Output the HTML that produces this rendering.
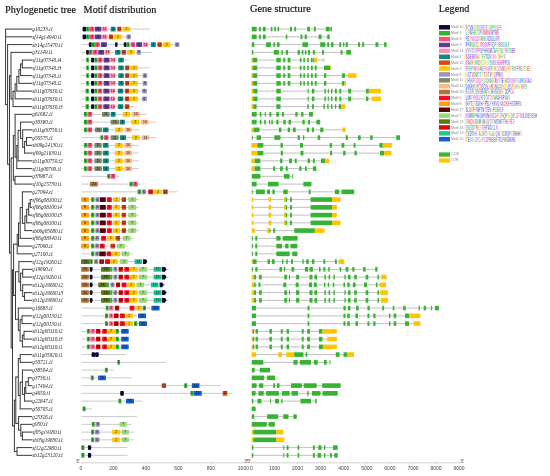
<!DOCTYPE html><html><head><meta charset="utf-8"><title>Phylogenetic tree, motif distribution and gene structure</title>
<style>html,body{margin:0;padding:0;background:#fff;}svg{display:block;}.ti{font-family:"Liberation Serif",serif;font-size:10.2px;fill:#111;stroke:#111;stroke-width:0.18px;}.lb{font-family:"Liberation Serif",serif;font-style:italic;font-size:5.2px;fill:#1a1a1a;}.bn{font-family:"Liberation Sans",sans-serif;font-size:3.3px;fill:#111;text-anchor:middle;}.ax{font-family:"Liberation Sans",sans-serif;font-size:5px;fill:#444;text-anchor:middle;}.lg{font-family:"Liberation Sans",sans-serif;font-size:3.5px;fill:#888;}.lo{font-family:"Liberation Sans",sans-serif;font-size:6.4px;font-weight:bold;}</style></head><body>
<svg width="550" height="476" viewBox="0 0 550 476">
<rect width="550" height="476" fill="#fff"/>
<text class="ti" x="5" y="12.6">Phylogenetic tree</text>
<text class="ti" x="83.6" y="13.3">Motif distribution</text>
<text class="ti" x="249.9" y="12.2" style="font-size:10.4px">Gene structure</text>
<text class="ti" x="438.8" y="12">Legend</text>
<path d="M5.60 28.65V104.89M5.60 29.10H32.00M5.60 36.85H32.00M5.60 104.44H7.60M7.60 44.15V164.73M7.60 44.60H32.00M7.60 164.28H9.50M9.50 75.21V253.36M9.50 75.66H11.00M11.00 51.90V99.42M11.00 52.35H32.00M11.00 98.97H13.00M13.00 90.89V107.05M13.00 91.34H15.10M15.10 83.38V99.30M15.10 83.83H16.80M16.80 76.12V91.55M16.80 76.57H18.90M18.90 69.34V83.80M18.90 69.79H20.60M20.60 63.52V76.05M20.60 63.97H22.30M22.30 59.65V68.30M22.30 60.10H32.00M22.30 67.85H32.00M20.60 75.60H32.00M18.90 83.35H32.00M16.80 91.10H32.00M15.10 98.85H32.00M13.00 106.60H32.00M9.50 252.91H11.20M11.20 157.52V348.29M11.20 157.97H13.40M13.40 135.27V180.67M13.40 135.72H15.10M15.10 113.90V157.55M15.10 114.35H32.00M15.10 157.10H16.80M16.80 145.14V169.05M16.80 145.59H18.10M18.10 129.88V161.30M18.10 130.33H20.60M20.60 121.65V139.02M20.60 122.10H32.00M20.60 138.57H22.70M22.70 129.40V147.74M22.70 129.85H32.00M22.70 147.29H24.60M24.60 141.03V153.55M24.60 141.47H26.50M26.50 137.15V145.80M26.50 137.60H32.00M26.50 145.35H32.00M24.60 153.10H32.00M18.10 160.85H32.00M16.80 168.60H32.00M13.40 180.22H15.00M15.00 175.90V184.55M15.00 176.35H32.00M15.00 184.10H32.00M11.20 347.84H12.50M12.50 269.40V426.28M12.50 269.85H13.60M13.60 243.74V295.96M13.60 244.19H17.20M17.20 234.09V254.30M17.20 234.54H18.50M18.50 222.52V246.55M18.50 222.97H20.20M20.20 207.14V238.80M20.20 207.59H22.40M22.40 191.40V223.78M22.40 191.85H32.00M22.40 223.33H24.90M24.90 215.62V231.05M24.90 216.07H26.70M26.70 208.84V223.30M26.70 209.29H28.70M28.70 203.03V215.55M28.70 203.47H30.20M30.20 199.15V207.80M30.20 199.60H32.00M30.20 207.35H32.00M28.70 215.10H32.00M26.70 222.85H32.00M24.90 230.60H32.00M20.20 238.35H32.00M18.50 246.10H32.00M17.20 253.85H32.00M13.60 295.51H15.50M15.50 271.32V319.69M15.50 271.77H18.90M18.90 261.15V282.39M18.90 261.60H32.00M18.90 281.94H20.60M20.60 272.78V291.11M20.60 273.23H22.70M22.70 268.90V277.55M22.70 269.35H32.00M22.70 277.10H32.00M20.60 290.66H22.70M22.70 284.40V296.93M22.70 284.85H32.00M22.70 296.48H24.60M24.60 292.15V300.80M24.60 292.60H32.00M24.60 300.35H32.00M15.50 319.24H18.30M18.30 307.65V330.83M18.30 308.10H32.00M18.30 330.38H20.10M20.10 319.28V341.49M20.10 319.73H22.00M22.00 315.40V324.05M22.00 315.85H32.00M22.00 323.60H32.00M20.10 341.04H22.40M22.40 334.78V347.30M22.40 335.23H24.00M24.00 330.90V339.55M24.00 331.35H32.00M24.00 339.10H32.00M22.40 346.85H32.00M12.50 425.83H14.40M14.40 399.74V451.93M14.40 400.19H15.80M15.80 376.55V423.83M15.80 377.00H18.30M18.30 358.03V395.98M18.30 358.48H20.20M20.20 354.15V362.80M20.20 354.60H32.00M20.20 362.35H32.00M18.30 395.53H20.20M20.20 381.76V409.30M20.20 382.21H22.40M22.40 369.65V394.77M22.40 370.10H32.00M22.40 394.32H24.60M24.60 387.09V401.55M24.60 387.54H25.80M25.80 381.28V393.80M25.80 381.73H28.30M28.30 377.40V386.05M28.30 377.85H32.00M28.30 385.60H32.00M25.80 393.35H32.00M24.60 401.10H32.00M20.20 408.85H32.00M15.80 423.38H18.60M18.60 416.15V430.61M18.60 416.60H32.00M18.60 430.16H20.80M20.80 423.90V436.43M20.80 424.35H32.00M20.80 435.98H22.40M22.40 431.65V440.30M22.40 432.10H32.00M22.40 439.85H32.00M14.40 451.48H17.00M17.00 447.15V455.80M17.00 447.60H32.00M17.00 455.35H32.00" stroke="#222" stroke-width="0.9" fill="none"/>
<text class="lb" x="32.3" y="31.00">g10233.t1</text>
<text class="lb" x="32.3" y="38.75">sf14g14040.t1</text>
<text class="lb" x="32.3" y="46.50">sb14g15470.t1</text>
<text class="lb" x="32.3" y="54.25">g31149.t1</text>
<text class="lb" x="32.3" y="62.00">sf11g07340.t4</text>
<text class="lb" x="32.3" y="69.75">sf11g07340.t3</text>
<text class="lb" x="32.3" y="77.50">sf11g07340.t1</text>
<text class="lb" x="32.3" y="85.25">sf11g07340.t2</text>
<text class="lb" x="32.3" y="93.00">sb11g07630.t2</text>
<text class="lb" x="32.3" y="100.75">sb11g07630.t1</text>
<text class="lb" x="32.3" y="108.50">sb11g07630.t3</text>
<text class="lb" x="32.3" y="116.25">g61682.t1</text>
<text class="lb" x="32.3" y="124.00">g30380.t1</text>
<text class="lb" x="32.3" y="131.75">sb11g00750.t1</text>
<text class="lb" x="32.3" y="139.50">g56575.t1</text>
<text class="lb" x="32.3" y="147.25">sb09g24130.t1</text>
<text class="lb" x="32.3" y="155.00">sf09g21630.t1</text>
<text class="lb" x="32.3" y="162.75">sb11g00750.t2</text>
<text class="lb" x="32.3" y="170.50">sf11g00790.t1</text>
<text class="lb" x="32.3" y="178.25">g33987.t1</text>
<text class="lb" x="32.3" y="186.00">sf10g25730.t1</text>
<text class="lb" x="32.3" y="193.75">g27094.t1</text>
<text class="lb" x="32.3" y="201.50">sf06g08100.t2</text>
<text class="lb" x="32.3" y="209.25">sf06g08100.t4</text>
<text class="lb" x="32.3" y="217.00">sf06g08100.t3</text>
<text class="lb" x="32.3" y="224.75">sf06g08100.t1</text>
<text class="lb" x="32.3" y="232.50">sb06g05680.t1</text>
<text class="lb" x="32.3" y="240.25">sf06g08340.t1</text>
<text class="lb" x="32.3" y="248.00">g27090.t1</text>
<text class="lb" x="32.3" y="255.75">g27100.t1</text>
<text class="lb" x="32.3" y="263.50">sf12g19260.t2</text>
<text class="lb" x="32.3" y="271.25">g19690.t1</text>
<text class="lb" x="32.3" y="279.00">sf12g19260.t1</text>
<text class="lb" x="32.3" y="286.75">sb12g19660.t2</text>
<text class="lb" x="32.3" y="294.50">sb12g19660.t3</text>
<text class="lb" x="32.3" y="302.25">sb12g19660.t1</text>
<text class="lb" x="32.3" y="310.00">g16683.t1</text>
<text class="lb" x="32.3" y="317.75">sf12g00130.t2</text>
<text class="lb" x="32.3" y="325.50">sf12g00130.t1</text>
<text class="lb" x="32.3" y="333.25">sb12g00110.t2</text>
<text class="lb" x="32.3" y="341.00">sb12g00110.t3</text>
<text class="lb" x="32.3" y="348.75">sb12g00110.t1</text>
<text class="lb" x="32.3" y="356.50">sb11g05920.t1</text>
<text class="lb" x="32.3" y="364.25">g50721.t1</text>
<text class="lb" x="32.3" y="372.00">g38504.t1</text>
<text class="lb" x="32.3" y="379.75">g3730.t1</text>
<text class="lb" x="32.3" y="387.50">g17404.t1</text>
<text class="lb" x="32.3" y="395.25">g4650.t1</text>
<text class="lb" x="32.3" y="403.00">g22847.t1</text>
<text class="lb" x="32.3" y="410.75">g56705.t1</text>
<text class="lb" x="32.3" y="418.50">g25326.t1</text>
<text class="lb" x="32.3" y="426.25">g950.t1</text>
<text class="lb" x="32.3" y="434.00">sf05g19180.t1</text>
<text class="lb" x="32.3" y="441.75">sb05g19830.t1</text>
<text class="lb" x="32.3" y="449.50">sf12g22980.t1</text>
<text class="lb" x="32.3" y="457.25">sb12g23120.t1</text>
<line x1="81.5" y1="29.10" x2="149.8" y2="29.10" stroke="#c4c4c4" stroke-width="0.9"/>
<rect x="82.6" y="26.70" width="3.6" height="4.8" rx="1.0" fill="#0b0b3d"/>
<text class="bn" x="84.40" y="30.20">10</text>
<rect x="86.2" y="26.70" width="3.0" height="4.8" rx="0.4" fill="#36b332"/>
<text class="bn" x="87.70" y="30.20">1</text>
<rect x="89.2" y="26.70" width="5.2" height="4.8" rx="0.4" fill="#f9507c"/>
<text class="bn" x="91.80" y="30.20">3</text>
<rect x="94.9" y="26.70" width="6.5" height="4.8" rx="0.4" fill="#5e3f8f"/>
<text class="bn" x="98.15" y="30.20">9</text>
<rect x="101.8" y="26.70" width="5.4" height="4.8" rx="0.4" fill="#ff8fb0"/>
<text class="bn" x="104.50" y="30.20">14</text>
<rect x="110.7" y="26.70" width="4.9" height="4.8" rx="0.4" fill="#0f8a80"/>
<text class="bn" x="113.15" y="30.20">4</text>
<rect x="117.3" y="26.70" width="4.1" height="4.8" rx="0.4" fill="#e04818"/>
<text class="bn" x="119.35" y="30.20">12</text>
<rect x="122.7" y="26.70" width="7.6" height="4.8" rx="0.4" fill="#ffc800"/>
<text class="bn" x="126.50" y="30.20">2</text>
<line x1="81.5" y1="36.85" x2="131.0" y2="36.85" stroke="#c4c4c4" stroke-width="0.9"/>
<rect x="82.6" y="34.45" width="3.6" height="4.8" rx="1.0" fill="#0b0b3d"/>
<text class="bn" x="84.40" y="37.95">10</text>
<rect x="86.2" y="34.45" width="3.0" height="4.8" rx="0.4" fill="#36b332"/>
<text class="bn" x="87.70" y="37.95">1</text>
<rect x="89.2" y="34.45" width="5.2" height="4.8" rx="0.4" fill="#f9507c"/>
<text class="bn" x="91.80" y="37.95">3</text>
<rect x="94.9" y="34.45" width="6.5" height="4.8" rx="0.4" fill="#5e3f8f"/>
<text class="bn" x="98.15" y="37.95">9</text>
<rect x="102.0" y="34.45" width="5.2" height="4.8" rx="0.4" fill="#ff8fb0"/>
<text class="bn" x="104.60" y="37.95">14</text>
<rect x="108.9" y="34.45" width="4.2" height="4.8" rx="0.4" fill="#e04818"/>
<text class="bn" x="111.00" y="37.95">12</text>
<rect x="114.0" y="34.45" width="7.8" height="4.8" rx="0.4" fill="#ffc800"/>
<text class="bn" x="117.90" y="37.95">2</text>
<rect x="126.5" y="34.45" width="4.4" height="4.8" rx="0.4" fill="#9a93bf"/>
<text class="bn" x="128.70" y="37.95">6</text>
<line x1="81.5" y1="44.60" x2="180.0" y2="44.60" stroke="#c4c4c4" stroke-width="0.9"/>
<rect x="88.9" y="42.20" width="2.7" height="4.8" rx="1.0" fill="#0b0b3d"/>
<text class="bn" x="90.25" y="45.70">10</text>
<rect x="91.6" y="42.20" width="3.3" height="4.8" rx="0.4" fill="#36b332"/>
<text class="bn" x="93.25" y="45.70">1</text>
<rect x="94.9" y="42.20" width="4.9" height="4.8" rx="0.4" fill="#f9507c"/>
<text class="bn" x="97.35" y="45.70">3</text>
<rect x="100.9" y="42.20" width="6.0" height="4.8" rx="0.4" fill="#5e3f8f"/>
<text class="bn" x="103.90" y="45.70">9</text>
<rect x="115.1" y="42.20" width="2.4" height="4.8" rx="1.0" fill="#0b0b3d"/>
<rect x="123.8" y="42.20" width="2.7" height="4.8" rx="1.0" fill="#0b0b3d"/>
<text class="bn" x="125.15" y="45.70">10</text>
<rect x="126.5" y="42.20" width="3.1" height="4.8" rx="0.4" fill="#36b332"/>
<text class="bn" x="128.05" y="45.70">1</text>
<rect x="130.7" y="42.20" width="4.4" height="4.8" rx="0.4" fill="#f9507c"/>
<text class="bn" x="132.90" y="45.70">3</text>
<rect x="136.2" y="42.20" width="5.8" height="4.8" rx="0.4" fill="#5e3f8f"/>
<text class="bn" x="139.10" y="45.70">9</text>
<rect x="142.7" y="42.20" width="5.5" height="4.8" rx="0.4" fill="#ff8fb0"/>
<text class="bn" x="145.45" y="45.70">14</text>
<rect x="150.9" y="42.20" width="4.9" height="4.8" rx="0.4" fill="#0f8a80"/>
<text class="bn" x="153.35" y="45.70">4</text>
<rect x="157.4" y="42.20" width="4.4" height="4.8" rx="0.4" fill="#e04818"/>
<text class="bn" x="159.60" y="45.70">12</text>
<rect x="162.9" y="42.20" width="7.6" height="4.8" rx="0.4" fill="#ffc800"/>
<text class="bn" x="166.70" y="45.70">2</text>
<rect x="174.9" y="42.20" width="4.4" height="4.8" rx="0.4" fill="#9a93bf"/>
<text class="bn" x="177.10" y="45.70">6</text>
<line x1="81.5" y1="52.35" x2="152.0" y2="52.35" stroke="#c4c4c4" stroke-width="0.9"/>
<rect x="86.2" y="49.95" width="2.7" height="4.8" rx="1.0" fill="#0b0b3d"/>
<text class="bn" x="87.55" y="53.45">10</text>
<rect x="88.9" y="49.95" width="3.3" height="4.8" rx="0.4" fill="#36b332"/>
<text class="bn" x="90.55" y="53.45">1</text>
<rect x="92.5" y="49.95" width="5.1" height="4.8" rx="0.4" fill="#f9507c"/>
<text class="bn" x="95.05" y="53.45">3</text>
<rect x="98.2" y="49.95" width="6.0" height="4.8" rx="0.4" fill="#5e3f8f"/>
<text class="bn" x="101.20" y="53.45">9</text>
<rect x="104.7" y="49.95" width="5.5" height="4.8" rx="0.4" fill="#ff8fb0"/>
<text class="bn" x="107.45" y="53.45">14</text>
<rect x="115.1" y="49.95" width="5.4" height="4.8" rx="0.4" fill="#0f8a80"/>
<text class="bn" x="117.80" y="53.45">4</text>
<rect x="121.6" y="49.95" width="4.4" height="4.8" rx="0.4" fill="#e04818"/>
<text class="bn" x="123.80" y="53.45">12</text>
<rect x="127.1" y="49.95" width="7.4" height="4.8" rx="0.4" fill="#ffc800"/>
<text class="bn" x="130.80" y="53.45">2</text>
<rect x="136.7" y="49.95" width="4.2" height="4.8" rx="0.4" fill="#9a93bf"/>
<text class="bn" x="138.80" y="53.45">6</text>
<line x1="81.5" y1="60.10" x2="128.7" y2="60.10" stroke="#c4c4c4" stroke-width="0.9"/>
<rect x="86.2" y="57.70" width="2.7" height="4.8" rx="0.4" fill="#36b332"/>
<text class="bn" x="87.55" y="61.20">1</text>
<rect x="91.1" y="57.70" width="3.0" height="4.8" rx="1.0" fill="#0b0b3d"/>
<text class="bn" x="92.60" y="61.20">10</text>
<rect x="94.4" y="57.70" width="3.0" height="4.8" rx="0.4" fill="#36b332"/>
<text class="bn" x="95.90" y="61.20">1</text>
<rect x="97.8" y="57.70" width="4.7" height="4.8" rx="0.4" fill="#f9507c"/>
<text class="bn" x="100.15" y="61.20">3</text>
<rect x="103.6" y="57.70" width="6.0" height="4.8" rx="0.4" fill="#5e3f8f"/>
<text class="bn" x="106.60" y="61.20">9</text>
<rect x="110.2" y="57.70" width="5.4" height="4.8" rx="0.4" fill="#ff8fb0"/>
<text class="bn" x="112.90" y="61.20">14</text>
<rect x="118.3" y="57.70" width="5.5" height="4.8" rx="0.4" fill="#0f8a80"/>
<text class="bn" x="121.05" y="61.20">4</text>
<line x1="81.5" y1="67.85" x2="149.3" y2="67.85" stroke="#c4c4c4" stroke-width="0.9"/>
<rect x="86.2" y="65.45" width="2.7" height="4.8" rx="0.4" fill="#36b332"/>
<text class="bn" x="87.55" y="68.95">1</text>
<rect x="91.1" y="65.45" width="3.0" height="4.8" rx="1.0" fill="#0b0b3d"/>
<text class="bn" x="92.60" y="68.95">10</text>
<rect x="94.4" y="65.45" width="3.0" height="4.8" rx="0.4" fill="#36b332"/>
<text class="bn" x="95.90" y="68.95">1</text>
<rect x="97.8" y="65.45" width="4.7" height="4.8" rx="0.4" fill="#f9507c"/>
<text class="bn" x="100.15" y="68.95">3</text>
<rect x="103.6" y="65.45" width="6.0" height="4.8" rx="0.4" fill="#5e3f8f"/>
<text class="bn" x="106.60" y="68.95">9</text>
<rect x="110.2" y="65.45" width="5.4" height="4.8" rx="0.4" fill="#ff8fb0"/>
<text class="bn" x="112.90" y="68.95">14</text>
<rect x="118.3" y="65.45" width="5.5" height="4.8" rx="0.4" fill="#0f8a80"/>
<text class="bn" x="121.05" y="68.95">4</text>
<rect x="125.1" y="65.45" width="4.2" height="4.8" rx="0.4" fill="#e04818"/>
<text class="bn" x="127.20" y="68.95">12</text>
<rect x="130.1" y="65.45" width="7.9" height="4.8" rx="0.4" fill="#ffc800"/>
<text class="bn" x="134.05" y="68.95">2</text>
<line x1="81.5" y1="75.60" x2="147.5" y2="75.60" stroke="#c4c4c4" stroke-width="0.9"/>
<rect x="86.2" y="73.20" width="2.7" height="4.8" rx="0.4" fill="#36b332"/>
<text class="bn" x="87.55" y="76.70">1</text>
<rect x="91.1" y="73.20" width="3.0" height="4.8" rx="1.0" fill="#0b0b3d"/>
<text class="bn" x="92.60" y="76.70">10</text>
<rect x="94.4" y="73.20" width="3.0" height="4.8" rx="0.4" fill="#36b332"/>
<text class="bn" x="95.90" y="76.70">1</text>
<rect x="97.8" y="73.20" width="4.7" height="4.8" rx="0.4" fill="#f9507c"/>
<text class="bn" x="100.15" y="76.70">3</text>
<rect x="103.6" y="73.20" width="6.0" height="4.8" rx="0.4" fill="#5e3f8f"/>
<text class="bn" x="106.60" y="76.70">9</text>
<rect x="110.2" y="73.20" width="5.4" height="4.8" rx="0.4" fill="#ff8fb0"/>
<text class="bn" x="112.90" y="76.70">14</text>
<rect x="118.3" y="73.20" width="5.5" height="4.8" rx="0.4" fill="#0f8a80"/>
<text class="bn" x="121.05" y="76.70">4</text>
<rect x="125.1" y="73.20" width="4.2" height="4.8" rx="0.4" fill="#e04818"/>
<text class="bn" x="127.20" y="76.70">12</text>
<rect x="130.1" y="73.20" width="7.9" height="4.8" rx="0.4" fill="#ffc800"/>
<text class="bn" x="134.05" y="76.70">2</text>
<rect x="142.7" y="73.20" width="4.4" height="4.8" rx="0.4" fill="#9a93bf"/>
<text class="bn" x="144.90" y="76.70">6</text>
<line x1="81.5" y1="83.35" x2="147.5" y2="83.35" stroke="#c4c4c4" stroke-width="0.9"/>
<rect x="86.2" y="80.95" width="2.7" height="4.8" rx="0.4" fill="#36b332"/>
<text class="bn" x="87.55" y="84.45">1</text>
<rect x="91.1" y="80.95" width="3.0" height="4.8" rx="1.0" fill="#0b0b3d"/>
<text class="bn" x="92.60" y="84.45">10</text>
<rect x="94.4" y="80.95" width="3.0" height="4.8" rx="0.4" fill="#36b332"/>
<text class="bn" x="95.90" y="84.45">1</text>
<rect x="97.8" y="80.95" width="4.7" height="4.8" rx="0.4" fill="#f9507c"/>
<text class="bn" x="100.15" y="84.45">3</text>
<rect x="103.6" y="80.95" width="6.0" height="4.8" rx="0.4" fill="#5e3f8f"/>
<text class="bn" x="106.60" y="84.45">9</text>
<rect x="110.2" y="80.95" width="5.4" height="4.8" rx="0.4" fill="#ff8fb0"/>
<text class="bn" x="112.90" y="84.45">14</text>
<rect x="118.3" y="80.95" width="5.5" height="4.8" rx="0.4" fill="#0f8a80"/>
<text class="bn" x="121.05" y="84.45">4</text>
<rect x="125.1" y="80.95" width="4.2" height="4.8" rx="0.4" fill="#e04818"/>
<text class="bn" x="127.20" y="84.45">12</text>
<rect x="130.1" y="80.95" width="7.9" height="4.8" rx="0.4" fill="#ffc800"/>
<text class="bn" x="134.05" y="84.45">2</text>
<rect x="142.7" y="80.95" width="4.4" height="4.8" rx="0.4" fill="#9a93bf"/>
<text class="bn" x="144.90" y="84.45">6</text>
<line x1="81.5" y1="91.10" x2="147.0" y2="91.10" stroke="#c4c4c4" stroke-width="0.9"/>
<rect x="85.6" y="88.70" width="3.3" height="4.8" rx="0.4" fill="#36b332"/>
<text class="bn" x="87.25" y="92.20">1</text>
<rect x="91.1" y="88.70" width="3.0" height="4.8" rx="1.0" fill="#0b0b3d"/>
<text class="bn" x="92.60" y="92.20">10</text>
<rect x="94.4" y="88.70" width="3.0" height="4.8" rx="0.4" fill="#36b332"/>
<text class="bn" x="95.90" y="92.20">1</text>
<rect x="97.8" y="88.70" width="4.4" height="4.8" rx="0.4" fill="#f9507c"/>
<text class="bn" x="100.00" y="92.20">3</text>
<rect x="103.3" y="88.70" width="6.3" height="4.8" rx="0.4" fill="#5e3f8f"/>
<text class="bn" x="106.45" y="92.20">9</text>
<rect x="110.2" y="88.70" width="4.9" height="4.8" rx="0.4" fill="#ff8fb0"/>
<text class="bn" x="112.65" y="92.20">14</text>
<rect x="117.8" y="88.70" width="5.5" height="4.8" rx="0.4" fill="#0f8a80"/>
<text class="bn" x="120.55" y="92.20">4</text>
<rect x="124.9" y="88.70" width="4.4" height="4.8" rx="0.4" fill="#e04818"/>
<text class="bn" x="127.10" y="92.20">12</text>
<rect x="129.8" y="88.70" width="8.2" height="4.8" rx="0.4" fill="#ffc800"/>
<text class="bn" x="133.90" y="92.20">2</text>
<rect x="142.2" y="88.70" width="4.6" height="4.8" rx="0.4" fill="#9a93bf"/>
<text class="bn" x="144.50" y="92.20">6</text>
<line x1="81.5" y1="98.85" x2="147.0" y2="98.85" stroke="#c4c4c4" stroke-width="0.9"/>
<rect x="85.6" y="96.45" width="3.3" height="4.8" rx="0.4" fill="#36b332"/>
<text class="bn" x="87.25" y="99.95">1</text>
<rect x="91.1" y="96.45" width="3.0" height="4.8" rx="1.0" fill="#0b0b3d"/>
<text class="bn" x="92.60" y="99.95">10</text>
<rect x="94.4" y="96.45" width="3.0" height="4.8" rx="0.4" fill="#36b332"/>
<text class="bn" x="95.90" y="99.95">1</text>
<rect x="97.8" y="96.45" width="4.4" height="4.8" rx="0.4" fill="#f9507c"/>
<text class="bn" x="100.00" y="99.95">3</text>
<rect x="103.3" y="96.45" width="6.3" height="4.8" rx="0.4" fill="#5e3f8f"/>
<text class="bn" x="106.45" y="99.95">9</text>
<rect x="110.2" y="96.45" width="4.9" height="4.8" rx="0.4" fill="#ff8fb0"/>
<text class="bn" x="112.65" y="99.95">14</text>
<rect x="117.8" y="96.45" width="5.5" height="4.8" rx="0.4" fill="#0f8a80"/>
<text class="bn" x="120.55" y="99.95">4</text>
<rect x="124.9" y="96.45" width="4.4" height="4.8" rx="0.4" fill="#e04818"/>
<text class="bn" x="127.10" y="99.95">12</text>
<rect x="129.8" y="96.45" width="8.2" height="4.8" rx="0.4" fill="#ffc800"/>
<text class="bn" x="133.90" y="99.95">2</text>
<rect x="142.2" y="96.45" width="4.6" height="4.8" rx="0.4" fill="#9a93bf"/>
<text class="bn" x="144.50" y="99.95">6</text>
<line x1="81.5" y1="106.60" x2="133.6" y2="106.60" stroke="#c4c4c4" stroke-width="0.9"/>
<rect x="85.6" y="104.20" width="3.3" height="4.8" rx="0.4" fill="#36b332"/>
<text class="bn" x="87.25" y="107.70">1</text>
<rect x="91.1" y="104.20" width="3.0" height="4.8" rx="1.0" fill="#0b0b3d"/>
<text class="bn" x="92.60" y="107.70">10</text>
<rect x="94.4" y="104.20" width="3.0" height="4.8" rx="0.4" fill="#36b332"/>
<text class="bn" x="95.90" y="107.70">1</text>
<rect x="97.8" y="104.20" width="4.4" height="4.8" rx="0.4" fill="#f9507c"/>
<text class="bn" x="100.00" y="107.70">3</text>
<rect x="103.3" y="104.20" width="6.3" height="4.8" rx="0.4" fill="#5e3f8f"/>
<text class="bn" x="106.45" y="107.70">9</text>
<rect x="110.2" y="104.20" width="4.9" height="4.8" rx="0.4" fill="#ff8fb0"/>
<text class="bn" x="112.65" y="107.70">14</text>
<rect x="117.8" y="104.20" width="5.5" height="4.8" rx="0.4" fill="#0f8a80"/>
<text class="bn" x="120.55" y="107.70">4</text>
<rect x="124.9" y="104.20" width="4.4" height="4.8" rx="0.4" fill="#e04818"/>
<text class="bn" x="127.10" y="107.70">12</text>
<line x1="81.5" y1="114.35" x2="146.5" y2="114.35" stroke="#c4c4c4" stroke-width="0.9"/>
<rect x="84.0" y="111.95" width="2.9" height="4.8" rx="0.4" fill="#36b332"/>
<text class="bn" x="85.45" y="115.45">1</text>
<rect x="87.3" y="111.95" width="4.9" height="4.8" rx="0.4" fill="#f9507c"/>
<text class="bn" x="89.75" y="115.45">3</text>
<rect x="102.0" y="111.95" width="7.6" height="4.8" rx="0.4" fill="#7b8a6d"/>
<text class="bn" x="105.80" y="115.45">11</text>
<rect x="110.7" y="111.95" width="4.9" height="4.8" rx="0.4" fill="#0f8a80"/>
<text class="bn" x="113.15" y="115.45">4</text>
<rect x="122.7" y="111.95" width="7.6" height="4.8" rx="0.4" fill="#ffc800"/>
<text class="bn" x="126.50" y="115.45">2</text>
<rect x="132.1" y="111.95" width="7.7" height="4.8" rx="0.4" fill="#ffb98a"/>
<text class="bn" x="135.95" y="115.45">16</text>
<line x1="81.5" y1="122.10" x2="155.8" y2="122.10" stroke="#c4c4c4" stroke-width="0.9"/>
<rect x="84.0" y="119.70" width="3.3" height="4.8" rx="0.4" fill="#36b332"/>
<text class="bn" x="85.65" y="123.20">1</text>
<rect x="87.3" y="119.70" width="4.9" height="4.8" rx="0.4" fill="#f9507c"/>
<text class="bn" x="89.75" y="123.20">3</text>
<rect x="110.7" y="119.70" width="8.2" height="4.8" rx="0.4" fill="#7b8a6d"/>
<text class="bn" x="114.80" y="123.20">11</text>
<rect x="119.7" y="119.70" width="5.2" height="4.8" rx="0.4" fill="#0f8a80"/>
<text class="bn" x="122.30" y="123.20">4</text>
<rect x="131.3" y="119.70" width="8.2" height="4.8" rx="0.4" fill="#ffc800"/>
<text class="bn" x="135.40" y="123.20">2</text>
<rect x="141.1" y="119.70" width="7.6" height="4.8" rx="0.4" fill="#ffb98a"/>
<text class="bn" x="144.90" y="123.20">16</text>
<line x1="81.5" y1="129.85" x2="139.5" y2="129.85" stroke="#c4c4c4" stroke-width="0.9"/>
<rect x="84.0" y="127.45" width="2.9" height="4.8" rx="0.4" fill="#36b332"/>
<text class="bn" x="85.45" y="130.95">1</text>
<rect x="87.3" y="127.45" width="4.9" height="4.8" rx="0.4" fill="#f9507c"/>
<text class="bn" x="89.75" y="130.95">3</text>
<rect x="94.9" y="127.45" width="7.1" height="4.8" rx="0.4" fill="#7b8a6d"/>
<text class="bn" x="98.45" y="130.95">11</text>
<rect x="102.9" y="127.45" width="5.6" height="4.8" rx="0.4" fill="#0f8a80"/>
<text class="bn" x="105.70" y="130.95">4</text>
<rect x="115.1" y="127.45" width="7.6" height="4.8" rx="0.4" fill="#ffc800"/>
<text class="bn" x="118.90" y="130.95">2</text>
<rect x="124.9" y="127.45" width="6.9" height="4.8" rx="0.4" fill="#ffb98a"/>
<text class="bn" x="128.35" y="130.95">16</text>
<line x1="81.5" y1="137.60" x2="156.1" y2="137.60" stroke="#c4c4c4" stroke-width="0.9"/>
<rect x="100.4" y="135.20" width="2.9" height="4.8" rx="0.4" fill="#36b332"/>
<text class="bn" x="101.85" y="138.70">1</text>
<rect x="104.0" y="135.20" width="4.5" height="4.8" rx="0.4" fill="#f9507c"/>
<text class="bn" x="106.25" y="138.70">3</text>
<rect x="110.7" y="135.20" width="7.9" height="4.8" rx="0.4" fill="#7b8a6d"/>
<text class="bn" x="114.65" y="138.70">11</text>
<rect x="120.0" y="135.20" width="6.0" height="4.8" rx="0.4" fill="#0f8a80"/>
<text class="bn" x="123.00" y="138.70">4</text>
<rect x="132.1" y="135.20" width="7.7" height="4.8" rx="0.4" fill="#ffc800"/>
<text class="bn" x="135.95" y="138.70">2</text>
<rect x="141.6" y="135.20" width="7.7" height="4.8" rx="0.4" fill="#ffb98a"/>
<text class="bn" x="145.45" y="138.70">16</text>
<line x1="81.5" y1="145.35" x2="138.9" y2="145.35" stroke="#c4c4c4" stroke-width="0.9"/>
<rect x="84.0" y="142.95" width="2.9" height="4.8" rx="0.4" fill="#36b332"/>
<text class="bn" x="85.45" y="146.45">1</text>
<rect x="87.3" y="142.95" width="4.9" height="4.8" rx="0.4" fill="#f9507c"/>
<text class="bn" x="89.75" y="146.45">3</text>
<rect x="94.4" y="142.95" width="7.4" height="4.8" rx="0.4" fill="#7b8a6d"/>
<text class="bn" x="98.10" y="146.45">11</text>
<rect x="102.9" y="142.95" width="5.6" height="4.8" rx="0.4" fill="#0f8a80"/>
<text class="bn" x="105.70" y="146.45">4</text>
<rect x="115.1" y="142.95" width="7.6" height="4.8" rx="0.4" fill="#ffc800"/>
<text class="bn" x="118.90" y="146.45">2</text>
<rect x="124.3" y="142.95" width="7.5" height="4.8" rx="0.4" fill="#ffb98a"/>
<text class="bn" x="128.05" y="146.45">16</text>
<line x1="81.5" y1="153.10" x2="138.9" y2="153.10" stroke="#c4c4c4" stroke-width="0.9"/>
<rect x="84.0" y="150.70" width="2.9" height="4.8" rx="0.4" fill="#36b332"/>
<text class="bn" x="85.45" y="154.20">1</text>
<rect x="87.3" y="150.70" width="4.9" height="4.8" rx="0.4" fill="#f9507c"/>
<text class="bn" x="89.75" y="154.20">3</text>
<rect x="94.4" y="150.70" width="7.4" height="4.8" rx="0.4" fill="#7b8a6d"/>
<text class="bn" x="98.10" y="154.20">11</text>
<rect x="102.9" y="150.70" width="5.9" height="4.8" rx="0.4" fill="#0f8a80"/>
<text class="bn" x="105.85" y="154.20">4</text>
<rect x="115.1" y="150.70" width="7.6" height="4.8" rx="0.4" fill="#ffc800"/>
<text class="bn" x="118.90" y="154.20">2</text>
<rect x="124.3" y="150.70" width="7.7" height="4.8" rx="0.4" fill="#ffb98a"/>
<text class="bn" x="128.15" y="154.20">16</text>
<line x1="81.5" y1="160.85" x2="138.9" y2="160.85" stroke="#c4c4c4" stroke-width="0.9"/>
<rect x="84.0" y="158.45" width="2.9" height="4.8" rx="0.4" fill="#36b332"/>
<text class="bn" x="85.45" y="161.95">1</text>
<rect x="87.3" y="158.45" width="4.9" height="4.8" rx="0.4" fill="#f9507c"/>
<text class="bn" x="89.75" y="161.95">3</text>
<rect x="94.4" y="158.45" width="7.4" height="4.8" rx="0.4" fill="#7b8a6d"/>
<text class="bn" x="98.10" y="161.95">11</text>
<rect x="102.9" y="158.45" width="5.9" height="4.8" rx="0.4" fill="#0f8a80"/>
<text class="bn" x="105.85" y="161.95">4</text>
<rect x="115.1" y="158.45" width="7.6" height="4.8" rx="0.4" fill="#ffc800"/>
<text class="bn" x="118.90" y="161.95">2</text>
<rect x="124.3" y="158.45" width="7.7" height="4.8" rx="0.4" fill="#ffb98a"/>
<text class="bn" x="128.15" y="161.95">16</text>
<line x1="81.5" y1="168.60" x2="138.9" y2="168.60" stroke="#c4c4c4" stroke-width="0.9"/>
<rect x="84.0" y="166.20" width="2.9" height="4.8" rx="0.4" fill="#36b332"/>
<text class="bn" x="85.45" y="169.70">1</text>
<rect x="87.3" y="166.20" width="4.9" height="4.8" rx="0.4" fill="#f9507c"/>
<text class="bn" x="89.75" y="169.70">3</text>
<rect x="94.4" y="166.20" width="7.4" height="4.8" rx="0.4" fill="#7b8a6d"/>
<text class="bn" x="98.10" y="169.70">11</text>
<rect x="102.9" y="166.20" width="5.9" height="4.8" rx="0.4" fill="#0f8a80"/>
<text class="bn" x="105.85" y="169.70">4</text>
<rect x="115.1" y="166.20" width="7.6" height="4.8" rx="0.4" fill="#ffc800"/>
<text class="bn" x="118.90" y="169.70">2</text>
<rect x="124.3" y="166.20" width="7.7" height="4.8" rx="0.4" fill="#ffb98a"/>
<text class="bn" x="128.15" y="169.70">16</text>
<line x1="81.5" y1="176.35" x2="119.2" y2="176.35" stroke="#c4c4c4" stroke-width="0.9"/>
<rect x="107.2" y="173.95" width="3.0" height="4.8" rx="0.4" fill="#36b332"/>
<text class="bn" x="108.70" y="177.45">1</text>
<rect x="110.5" y="173.95" width="4.8" height="4.8" rx="0.4" fill="#f9507c"/>
<text class="bn" x="112.90" y="177.45">3</text>
<line x1="81.5" y1="184.10" x2="141.6" y2="184.10" stroke="#c4c4c4" stroke-width="0.9"/>
<rect x="90.0" y="181.70" width="7.8" height="4.8" rx="0.4" fill="#b0743a"/>
<text class="bn" x="93.90" y="185.20">20</text>
<rect x="129.5" y="181.70" width="3.2" height="4.8" rx="0.4" fill="#36b332"/>
<text class="bn" x="131.10" y="185.20">1</text>
<rect x="133.1" y="181.70" width="4.7" height="4.8" rx="0.4" fill="#f9507c"/>
<text class="bn" x="135.45" y="185.20">3</text>
<line x1="81.5" y1="191.85" x2="177.1" y2="191.85" stroke="#c4c4c4" stroke-width="0.9"/>
<rect x="137.6" y="189.45" width="3.3" height="4.8" rx="0.4" fill="#36b332"/>
<text class="bn" x="139.25" y="192.95">1</text>
<rect x="141.6" y="189.45" width="4.4" height="4.8" rx="0.4" fill="#9a93bf"/>
<text class="bn" x="143.80" y="192.95">6</text>
<rect x="148.2" y="189.45" width="4.9" height="4.8" rx="0.4" fill="#ff0a1e"/>
<text class="bn" x="150.65" y="192.95">5</text>
<rect x="154.2" y="189.45" width="7.6" height="4.8" rx="0.4" fill="#ffc800"/>
<text class="bn" x="158.00" y="192.95">2</text>
<rect x="162.9" y="189.45" width="4.9" height="4.8" rx="0.4" fill="#e04818"/>
<text class="bn" x="165.35" y="192.95">12</text>
<line x1="81.5" y1="199.60" x2="138.9" y2="199.60" stroke="#c4c4c4" stroke-width="0.9"/>
<rect x="81.1" y="197.20" width="7.8" height="4.8" rx="0.4" fill="#ffa000"/>
<text class="bn" x="85.00" y="200.70">8</text>
<rect x="91.1" y="197.20" width="3.3" height="4.8" rx="0.4" fill="#36b332"/>
<text class="bn" x="92.75" y="200.70">1</text>
<rect x="95.4" y="197.20" width="3.9" height="4.8" rx="0.4" fill="#9a93bf"/>
<text class="bn" x="97.35" y="200.70">6</text>
<rect x="99.8" y="197.20" width="6.0" height="4.8" rx="0.4" fill="#5a0008"/>
<text class="bn" x="102.80" y="200.70">17</text>
<rect x="106.9" y="197.20" width="4.9" height="4.8" rx="0.4" fill="#ff0a1e"/>
<text class="bn" x="109.35" y="200.70">5</text>
<rect x="112.9" y="197.20" width="7.1" height="4.8" rx="0.4" fill="#ffc800"/>
<text class="bn" x="116.45" y="200.70">2</text>
<rect x="121.6" y="197.20" width="4.4" height="4.8" rx="0.4" fill="#e04818"/>
<text class="bn" x="123.80" y="200.70">12</text>
<rect x="128.2" y="197.20" width="8.0" height="4.8" rx="0.4" fill="#9cd878"/>
<text class="bn" x="132.20" y="200.70">7</text>
<line x1="81.5" y1="207.35" x2="138.9" y2="207.35" stroke="#c4c4c4" stroke-width="0.9"/>
<rect x="81.1" y="204.95" width="7.8" height="4.8" rx="0.4" fill="#ffa000"/>
<text class="bn" x="85.00" y="208.45">8</text>
<rect x="91.1" y="204.95" width="3.3" height="4.8" rx="0.4" fill="#36b332"/>
<text class="bn" x="92.75" y="208.45">1</text>
<rect x="95.4" y="204.95" width="3.9" height="4.8" rx="0.4" fill="#9a93bf"/>
<text class="bn" x="97.35" y="208.45">6</text>
<rect x="99.8" y="204.95" width="6.0" height="4.8" rx="0.4" fill="#5a0008"/>
<text class="bn" x="102.80" y="208.45">17</text>
<rect x="106.9" y="204.95" width="4.9" height="4.8" rx="0.4" fill="#ff0a1e"/>
<text class="bn" x="109.35" y="208.45">5</text>
<rect x="112.9" y="204.95" width="7.1" height="4.8" rx="0.4" fill="#ffc800"/>
<text class="bn" x="116.45" y="208.45">2</text>
<rect x="121.6" y="204.95" width="4.4" height="4.8" rx="0.4" fill="#e04818"/>
<text class="bn" x="123.80" y="208.45">12</text>
<rect x="128.2" y="204.95" width="8.0" height="4.8" rx="0.4" fill="#9cd878"/>
<text class="bn" x="132.20" y="208.45">7</text>
<line x1="81.5" y1="215.10" x2="138.9" y2="215.10" stroke="#c4c4c4" stroke-width="0.9"/>
<rect x="81.1" y="212.70" width="7.8" height="4.8" rx="0.4" fill="#ffa000"/>
<text class="bn" x="85.00" y="216.20">8</text>
<rect x="91.1" y="212.70" width="3.3" height="4.8" rx="0.4" fill="#36b332"/>
<text class="bn" x="92.75" y="216.20">1</text>
<rect x="95.4" y="212.70" width="3.9" height="4.8" rx="0.4" fill="#9a93bf"/>
<text class="bn" x="97.35" y="216.20">6</text>
<rect x="99.8" y="212.70" width="6.0" height="4.8" rx="0.4" fill="#5a0008"/>
<text class="bn" x="102.80" y="216.20">17</text>
<rect x="106.9" y="212.70" width="4.9" height="4.8" rx="0.4" fill="#ff0a1e"/>
<text class="bn" x="109.35" y="216.20">5</text>
<rect x="112.9" y="212.70" width="7.1" height="4.8" rx="0.4" fill="#ffc800"/>
<text class="bn" x="116.45" y="216.20">2</text>
<rect x="121.6" y="212.70" width="4.4" height="4.8" rx="0.4" fill="#e04818"/>
<text class="bn" x="123.80" y="216.20">12</text>
<rect x="128.2" y="212.70" width="8.0" height="4.8" rx="0.4" fill="#9cd878"/>
<text class="bn" x="132.20" y="216.20">7</text>
<line x1="81.5" y1="222.85" x2="138.9" y2="222.85" stroke="#c4c4c4" stroke-width="0.9"/>
<rect x="81.1" y="220.45" width="7.8" height="4.8" rx="0.4" fill="#ffa000"/>
<text class="bn" x="85.00" y="223.95">8</text>
<rect x="91.1" y="220.45" width="3.3" height="4.8" rx="0.4" fill="#36b332"/>
<text class="bn" x="92.75" y="223.95">1</text>
<rect x="95.4" y="220.45" width="3.9" height="4.8" rx="0.4" fill="#9a93bf"/>
<text class="bn" x="97.35" y="223.95">6</text>
<rect x="99.8" y="220.45" width="6.0" height="4.8" rx="0.4" fill="#5a0008"/>
<text class="bn" x="102.80" y="223.95">17</text>
<rect x="106.9" y="220.45" width="4.9" height="4.8" rx="0.4" fill="#ff0a1e"/>
<text class="bn" x="109.35" y="223.95">5</text>
<rect x="112.9" y="220.45" width="7.1" height="4.8" rx="0.4" fill="#ffc800"/>
<text class="bn" x="116.45" y="223.95">2</text>
<rect x="121.6" y="220.45" width="4.4" height="4.8" rx="0.4" fill="#e04818"/>
<text class="bn" x="123.80" y="223.95">12</text>
<rect x="128.2" y="220.45" width="8.0" height="4.8" rx="0.4" fill="#9cd878"/>
<text class="bn" x="132.20" y="223.95">7</text>
<line x1="81.5" y1="230.60" x2="138.9" y2="230.60" stroke="#c4c4c4" stroke-width="0.9"/>
<rect x="81.1" y="228.20" width="7.8" height="4.8" rx="0.4" fill="#ffa000"/>
<text class="bn" x="85.00" y="231.70">8</text>
<rect x="91.1" y="228.20" width="3.3" height="4.8" rx="0.4" fill="#36b332"/>
<text class="bn" x="92.75" y="231.70">1</text>
<rect x="95.4" y="228.20" width="3.9" height="4.8" rx="0.4" fill="#9a93bf"/>
<text class="bn" x="97.35" y="231.70">6</text>
<rect x="99.8" y="228.20" width="6.0" height="4.8" rx="0.4" fill="#5a0008"/>
<text class="bn" x="102.80" y="231.70">17</text>
<rect x="106.9" y="228.20" width="4.9" height="4.8" rx="0.4" fill="#ff0a1e"/>
<text class="bn" x="109.35" y="231.70">5</text>
<rect x="112.9" y="228.20" width="7.1" height="4.8" rx="0.4" fill="#ffc800"/>
<text class="bn" x="116.45" y="231.70">2</text>
<rect x="121.6" y="228.20" width="4.4" height="4.8" rx="0.4" fill="#e04818"/>
<text class="bn" x="123.80" y="231.70">12</text>
<rect x="128.2" y="228.20" width="8.0" height="4.8" rx="0.4" fill="#9cd878"/>
<text class="bn" x="132.20" y="231.70">7</text>
<line x1="81.5" y1="238.35" x2="132.9" y2="238.35" stroke="#c4c4c4" stroke-width="0.9"/>
<rect x="81.1" y="235.95" width="7.8" height="4.8" rx="0.4" fill="#ffa000"/>
<text class="bn" x="85.00" y="239.45">8</text>
<rect x="91.1" y="235.95" width="3.3" height="4.8" rx="0.4" fill="#36b332"/>
<text class="bn" x="92.75" y="239.45">1</text>
<rect x="95.2" y="235.95" width="4.1" height="4.8" rx="0.4" fill="#9a93bf"/>
<text class="bn" x="97.25" y="239.45">6</text>
<rect x="101.1" y="235.95" width="5.0" height="4.8" rx="0.4" fill="#ff0a1e"/>
<text class="bn" x="103.60" y="239.45">5</text>
<rect x="106.9" y="235.95" width="7.6" height="4.8" rx="0.4" fill="#ffc800"/>
<text class="bn" x="110.70" y="239.45">2</text>
<rect x="115.6" y="235.95" width="4.4" height="4.8" rx="0.4" fill="#e04818"/>
<text class="bn" x="117.80" y="239.45">12</text>
<rect x="122.7" y="235.95" width="7.7" height="4.8" rx="0.4" fill="#9cd878"/>
<text class="bn" x="126.55" y="239.45">7</text>
<line x1="81.5" y1="246.10" x2="127.6" y2="246.10" stroke="#c4c4c4" stroke-width="0.9"/>
<rect x="81.1" y="243.70" width="7.8" height="4.8" rx="0.4" fill="#ffa000"/>
<text class="bn" x="85.00" y="247.20">8</text>
<rect x="91.1" y="243.70" width="3.3" height="4.8" rx="0.4" fill="#36b332"/>
<text class="bn" x="92.75" y="247.20">1</text>
<rect x="95.2" y="243.70" width="4.1" height="4.8" rx="0.4" fill="#9a93bf"/>
<text class="bn" x="97.25" y="247.20">6</text>
<rect x="99.8" y="243.70" width="4.9" height="4.8" rx="0.4" fill="#ff0a1e"/>
<text class="bn" x="102.25" y="247.20">5</text>
<rect x="110.5" y="243.70" width="4.6" height="4.8" rx="0.4" fill="#e04818"/>
<text class="bn" x="112.80" y="247.20">12</text>
<rect x="117.0" y="243.70" width="7.9" height="4.8" rx="0.4" fill="#9cd878"/>
<text class="bn" x="120.95" y="247.20">7</text>
<line x1="81.5" y1="253.85" x2="132.4" y2="253.85" stroke="#c4c4c4" stroke-width="0.9"/>
<rect x="91.1" y="251.45" width="3.3" height="4.8" rx="0.4" fill="#36b332"/>
<text class="bn" x="92.75" y="254.95">1</text>
<rect x="95.2" y="251.45" width="4.1" height="4.8" rx="0.4" fill="#9a93bf"/>
<text class="bn" x="97.25" y="254.95">6</text>
<rect x="99.3" y="251.45" width="6.5" height="4.8" rx="0.4" fill="#5a0008"/>
<text class="bn" x="102.55" y="254.95">17</text>
<rect x="106.6" y="251.45" width="4.7" height="4.8" rx="0.4" fill="#ff0a1e"/>
<text class="bn" x="108.95" y="254.95">5</text>
<rect x="111.8" y="251.45" width="8.2" height="4.8" rx="0.4" fill="#ffc800"/>
<text class="bn" x="115.90" y="254.95">2</text>
<rect x="121.6" y="251.45" width="7.7" height="4.8" rx="0.4" fill="#9cd878"/>
<text class="bn" x="125.45" y="254.95">7</text>
<line x1="81.5" y1="261.60" x2="147.1" y2="261.60" stroke="#c4c4c4" stroke-width="0.9"/>
<rect x="81.1" y="259.20" width="8.7" height="4.8" rx="0.4" fill="#5a7a1a"/>
<text class="bn" x="85.45" y="262.70">19</text>
<rect x="89.8" y="259.20" width="2.9" height="4.8" rx="0.4" fill="#36b332"/>
<text class="bn" x="91.25" y="262.70">1</text>
<rect x="94.1" y="259.20" width="4.1" height="4.8" rx="0.4" fill="#9a93bf"/>
<text class="bn" x="96.15" y="262.70">6</text>
<rect x="99.3" y="259.20" width="4.7" height="4.8" rx="0.4" fill="#dd0a0a"/>
<text class="bn" x="101.65" y="262.70">18</text>
<rect x="105.0" y="259.20" width="5.2" height="4.8" rx="0.4" fill="#ff0a1e"/>
<text class="bn" x="107.60" y="262.70">5</text>
<rect x="110.2" y="259.20" width="7.6" height="4.8" rx="0.4" fill="#ffc800"/>
<text class="bn" x="114.00" y="262.70">2</text>
<rect x="120.0" y="259.20" width="7.6" height="4.8" rx="0.4" fill="#9cd878"/>
<text class="bn" x="123.80" y="262.70">7</text>
<rect x="134.5" y="259.20" width="7.7" height="4.8" rx="0.4" fill="#20c890"/>
<text class="bn" x="138.35" y="262.70">13</text>
<path d="M143.00 259.20H145.90L147.40 261.60L145.90 264.00H143.00Z" fill="#0b0b3d"/>
<text class="bn" x="145.05" y="262.70">10</text>
<line x1="81.5" y1="269.35" x2="168.9" y2="269.35" stroke="#c4c4c4" stroke-width="0.9"/>
<rect x="81.1" y="266.95" width="7.8" height="4.8" rx="0.4" fill="#b0743a"/>
<text class="bn" x="85.00" y="270.45">20</text>
<rect x="89.8" y="266.95" width="2.6" height="4.8" rx="1.0" fill="#0b0b3d"/>
<text class="bn" x="91.10" y="270.45">10</text>
<rect x="101.1" y="266.95" width="9.1" height="4.8" rx="0.4" fill="#5a7a1a"/>
<text class="bn" x="105.65" y="270.45">19</text>
<rect x="110.2" y="266.95" width="2.2" height="4.8" rx="0.4" fill="#36b332"/>
<rect x="113.4" y="266.95" width="3.9" height="4.8" rx="0.4" fill="#9a93bf"/>
<text class="bn" x="115.35" y="270.45">6</text>
<rect x="118.6" y="266.95" width="4.3" height="4.8" rx="0.4" fill="#dd0a0a"/>
<text class="bn" x="120.75" y="270.45">18</text>
<rect x="124.3" y="266.95" width="5.0" height="4.8" rx="0.4" fill="#ff0a1e"/>
<text class="bn" x="126.80" y="270.45">5</text>
<rect x="129.8" y="266.95" width="7.8" height="4.8" rx="0.4" fill="#ffc800"/>
<text class="bn" x="133.70" y="270.45">2</text>
<rect x="138.9" y="266.95" width="8.2" height="4.8" rx="0.4" fill="#9cd878"/>
<text class="bn" x="143.00" y="270.45">7</text>
<rect x="153.6" y="266.95" width="7.7" height="4.8" rx="0.4" fill="#20c890"/>
<text class="bn" x="157.45" y="270.45">13</text>
<path d="M161.80 266.95H165.00L166.50 269.35L165.00 271.75H161.80Z" fill="#0b0b3d"/>
<text class="bn" x="164.00" y="270.45">10</text>
<line x1="81.5" y1="277.10" x2="168.9" y2="277.10" stroke="#c4c4c4" stroke-width="0.9"/>
<rect x="81.1" y="274.70" width="7.8" height="4.8" rx="0.4" fill="#b0743a"/>
<text class="bn" x="85.00" y="278.20">20</text>
<rect x="89.8" y="274.70" width="2.6" height="4.8" rx="1.0" fill="#0b0b3d"/>
<text class="bn" x="91.10" y="278.20">10</text>
<rect x="101.1" y="274.70" width="9.1" height="4.8" rx="0.4" fill="#5a7a1a"/>
<text class="bn" x="105.65" y="278.20">19</text>
<rect x="110.2" y="274.70" width="2.2" height="4.8" rx="0.4" fill="#36b332"/>
<rect x="113.4" y="274.70" width="3.9" height="4.8" rx="0.4" fill="#9a93bf"/>
<text class="bn" x="115.35" y="278.20">6</text>
<rect x="118.6" y="274.70" width="4.3" height="4.8" rx="0.4" fill="#dd0a0a"/>
<text class="bn" x="120.75" y="278.20">18</text>
<rect x="124.3" y="274.70" width="5.0" height="4.8" rx="0.4" fill="#ff0a1e"/>
<text class="bn" x="126.80" y="278.20">5</text>
<rect x="129.8" y="274.70" width="7.8" height="4.8" rx="0.4" fill="#ffc800"/>
<text class="bn" x="133.70" y="278.20">2</text>
<rect x="138.9" y="274.70" width="8.2" height="4.8" rx="0.4" fill="#9cd878"/>
<text class="bn" x="143.00" y="278.20">7</text>
<rect x="153.6" y="274.70" width="7.7" height="4.8" rx="0.4" fill="#20c890"/>
<text class="bn" x="157.45" y="278.20">13</text>
<path d="M161.80 274.70H165.00L166.50 277.10L165.00 279.50H161.80Z" fill="#0b0b3d"/>
<text class="bn" x="164.00" y="278.20">10</text>
<line x1="81.5" y1="284.85" x2="165.0" y2="284.85" stroke="#c4c4c4" stroke-width="0.9"/>
<rect x="81.1" y="282.45" width="7.8" height="4.8" rx="0.4" fill="#b0743a"/>
<text class="bn" x="85.00" y="285.95">20</text>
<rect x="89.8" y="282.45" width="2.6" height="4.8" rx="1.0" fill="#0b0b3d"/>
<text class="bn" x="91.10" y="285.95">10</text>
<rect x="98.2" y="282.45" width="8.7" height="4.8" rx="0.4" fill="#5a7a1a"/>
<text class="bn" x="102.55" y="285.95">19</text>
<rect x="106.9" y="282.45" width="2.2" height="4.8" rx="0.4" fill="#36b332"/>
<rect x="110.5" y="282.45" width="4.0" height="4.8" rx="0.4" fill="#9a93bf"/>
<text class="bn" x="112.50" y="285.95">6</text>
<rect x="116.0" y="282.45" width="4.0" height="4.8" rx="0.4" fill="#dd0a0a"/>
<text class="bn" x="118.00" y="285.95">18</text>
<rect x="121.6" y="282.45" width="4.9" height="4.8" rx="0.4" fill="#ff0a1e"/>
<text class="bn" x="124.05" y="285.95">5</text>
<rect x="127.1" y="282.45" width="8.0" height="4.8" rx="0.4" fill="#ffc800"/>
<text class="bn" x="131.10" y="285.95">2</text>
<rect x="136.5" y="282.45" width="7.6" height="4.8" rx="0.4" fill="#9cd878"/>
<text class="bn" x="140.30" y="285.95">7</text>
<rect x="150.9" y="282.45" width="7.6" height="4.8" rx="0.4" fill="#20c890"/>
<text class="bn" x="154.70" y="285.95">13</text>
<path d="M159.60 282.45H162.20L163.70 284.85L162.20 287.25H159.60Z" fill="#0b0b3d"/>
<text class="bn" x="161.50" y="285.95">10</text>
<line x1="81.5" y1="292.60" x2="168.9" y2="292.60" stroke="#c4c4c4" stroke-width="0.9"/>
<rect x="81.1" y="290.20" width="7.8" height="4.8" rx="0.4" fill="#b0743a"/>
<text class="bn" x="85.00" y="293.70">20</text>
<rect x="89.8" y="290.20" width="2.6" height="4.8" rx="1.0" fill="#0b0b3d"/>
<text class="bn" x="91.10" y="293.70">10</text>
<rect x="101.1" y="290.20" width="9.1" height="4.8" rx="0.4" fill="#5a7a1a"/>
<text class="bn" x="105.65" y="293.70">19</text>
<rect x="110.2" y="290.20" width="2.2" height="4.8" rx="0.4" fill="#36b332"/>
<rect x="113.4" y="290.20" width="3.9" height="4.8" rx="0.4" fill="#9a93bf"/>
<text class="bn" x="115.35" y="293.70">6</text>
<rect x="118.6" y="290.20" width="4.3" height="4.8" rx="0.4" fill="#dd0a0a"/>
<text class="bn" x="120.75" y="293.70">18</text>
<rect x="124.3" y="290.20" width="5.0" height="4.8" rx="0.4" fill="#ff0a1e"/>
<text class="bn" x="126.80" y="293.70">5</text>
<rect x="129.8" y="290.20" width="7.8" height="4.8" rx="0.4" fill="#ffc800"/>
<text class="bn" x="133.70" y="293.70">2</text>
<rect x="138.9" y="290.20" width="8.2" height="4.8" rx="0.4" fill="#9cd878"/>
<text class="bn" x="143.00" y="293.70">7</text>
<rect x="153.6" y="290.20" width="7.7" height="4.8" rx="0.4" fill="#20c890"/>
<text class="bn" x="157.45" y="293.70">13</text>
<path d="M161.80 290.20H165.00L166.50 292.60L165.00 295.00H161.80Z" fill="#0b0b3d"/>
<text class="bn" x="164.00" y="293.70">10</text>
<line x1="81.5" y1="300.35" x2="168.9" y2="300.35" stroke="#c4c4c4" stroke-width="0.9"/>
<rect x="81.1" y="297.95" width="7.8" height="4.8" rx="0.4" fill="#b0743a"/>
<text class="bn" x="85.00" y="301.45">20</text>
<rect x="89.8" y="297.95" width="2.6" height="4.8" rx="1.0" fill="#0b0b3d"/>
<text class="bn" x="91.10" y="301.45">10</text>
<rect x="101.1" y="297.95" width="9.1" height="4.8" rx="0.4" fill="#5a7a1a"/>
<text class="bn" x="105.65" y="301.45">19</text>
<rect x="110.2" y="297.95" width="2.2" height="4.8" rx="0.4" fill="#36b332"/>
<rect x="113.4" y="297.95" width="3.9" height="4.8" rx="0.4" fill="#9a93bf"/>
<text class="bn" x="115.35" y="301.45">6</text>
<rect x="118.6" y="297.95" width="4.3" height="4.8" rx="0.4" fill="#dd0a0a"/>
<text class="bn" x="120.75" y="301.45">18</text>
<rect x="124.3" y="297.95" width="5.0" height="4.8" rx="0.4" fill="#ff0a1e"/>
<text class="bn" x="126.80" y="301.45">5</text>
<rect x="129.8" y="297.95" width="7.8" height="4.8" rx="0.4" fill="#ffc800"/>
<text class="bn" x="133.70" y="301.45">2</text>
<rect x="138.9" y="297.95" width="8.2" height="4.8" rx="0.4" fill="#9cd878"/>
<text class="bn" x="143.00" y="301.45">7</text>
<rect x="153.6" y="297.95" width="7.7" height="4.8" rx="0.4" fill="#20c890"/>
<text class="bn" x="157.45" y="301.45">13</text>
<path d="M161.80 297.95H165.00L166.50 300.35L165.00 302.75H161.80Z" fill="#0b0b3d"/>
<text class="bn" x="164.00" y="301.45">10</text>
<line x1="81.5" y1="308.10" x2="159.6" y2="308.10" stroke="#c4c4c4" stroke-width="0.9"/>
<rect x="105.8" y="305.70" width="2.7" height="4.8" rx="0.4" fill="#36b332"/>
<text class="bn" x="107.15" y="309.20">1</text>
<rect x="108.8" y="305.70" width="4.6" height="4.8" rx="0.4" fill="#ff7396"/>
<text class="bn" x="111.10" y="309.20">3</text>
<rect x="114.9" y="305.70" width="4.3" height="4.8" rx="0.4" fill="#dd0a0a"/>
<text class="bn" x="117.05" y="309.20">18</text>
<rect x="129.6" y="305.70" width="4.9" height="4.8" rx="0.4" fill="#ff0a1e"/>
<text class="bn" x="132.05" y="309.20">5</text>
<rect x="135.1" y="305.70" width="7.1" height="4.8" rx="0.4" fill="#ffc800"/>
<text class="bn" x="138.65" y="309.20">2</text>
<rect x="142.7" y="305.70" width="3.3" height="4.8" rx="0.4" fill="#36b332"/>
<text class="bn" x="144.35" y="309.20">1</text>
<rect x="151.4" y="305.70" width="8.2" height="4.8" rx="0.4" fill="#1060d0"/>
<text class="bn" x="155.50" y="309.20">15</text>
<line x1="81.5" y1="315.85" x2="146.0" y2="315.85" stroke="#c4c4c4" stroke-width="0.9"/>
<rect x="105.0" y="313.45" width="3.0" height="4.8" rx="0.4" fill="#36b332"/>
<text class="bn" x="106.50" y="316.95">1</text>
<rect x="108.8" y="313.45" width="4.6" height="4.8" rx="0.4" fill="#ff7396"/>
<text class="bn" x="111.10" y="316.95">3</text>
<rect x="114.0" y="313.45" width="4.6" height="4.8" rx="0.4" fill="#dd0a0a"/>
<text class="bn" x="116.30" y="316.95">18</text>
<rect x="120.0" y="313.45" width="4.9" height="4.8" rx="0.4" fill="#ff0a1e"/>
<text class="bn" x="122.45" y="316.95">5</text>
<rect x="125.4" y="313.45" width="7.7" height="4.8" rx="0.4" fill="#ffc800"/>
<text class="bn" x="129.25" y="316.95">2</text>
<rect x="138.0" y="313.45" width="8.0" height="4.8" rx="0.4" fill="#1060d0"/>
<text class="bn" x="142.00" y="316.95">15</text>
<line x1="81.5" y1="323.60" x2="147.1" y2="323.60" stroke="#c4c4c4" stroke-width="0.9"/>
<rect x="105.0" y="321.20" width="3.0" height="4.8" rx="0.4" fill="#36b332"/>
<text class="bn" x="106.50" y="324.70">1</text>
<rect x="108.8" y="321.20" width="4.6" height="4.8" rx="0.4" fill="#ff7396"/>
<text class="bn" x="111.10" y="324.70">3</text>
<rect x="114.0" y="321.20" width="4.6" height="4.8" rx="0.4" fill="#dd0a0a"/>
<text class="bn" x="116.30" y="324.70">18</text>
<rect x="120.0" y="321.20" width="4.9" height="4.8" rx="0.4" fill="#ff0a1e"/>
<text class="bn" x="122.45" y="324.70">5</text>
<rect x="125.4" y="321.20" width="7.7" height="4.8" rx="0.4" fill="#ffc800"/>
<text class="bn" x="129.25" y="324.70">2</text>
<rect x="134.0" y="321.20" width="3.3" height="4.8" rx="0.4" fill="#36b332"/>
<text class="bn" x="135.65" y="324.70">1</text>
<rect x="138.9" y="321.20" width="8.2" height="4.8" rx="0.4" fill="#1060d0"/>
<text class="bn" x="143.00" y="324.70">15</text>
<line x1="81.5" y1="331.35" x2="128.7" y2="331.35" stroke="#c4c4c4" stroke-width="0.9"/>
<rect x="86.9" y="328.95" width="2.9" height="4.8" rx="0.4" fill="#36b332"/>
<text class="bn" x="88.35" y="332.45">1</text>
<rect x="90.2" y="328.95" width="4.7" height="4.8" rx="0.4" fill="#ff7396"/>
<text class="bn" x="92.55" y="332.45">3</text>
<rect x="96.0" y="328.95" width="4.4" height="4.8" rx="0.4" fill="#dd0a0a"/>
<text class="bn" x="98.20" y="332.45">18</text>
<rect x="102.2" y="328.95" width="4.7" height="4.8" rx="0.4" fill="#ff0a1e"/>
<text class="bn" x="104.55" y="332.45">5</text>
<rect x="107.4" y="328.95" width="7.7" height="4.8" rx="0.4" fill="#ffc800"/>
<text class="bn" x="111.25" y="332.45">2</text>
<rect x="115.6" y="328.95" width="3.3" height="4.8" rx="0.4" fill="#36b332"/>
<text class="bn" x="117.25" y="332.45">1</text>
<rect x="121.1" y="328.95" width="7.6" height="4.8" rx="0.4" fill="#1060d0"/>
<text class="bn" x="124.90" y="332.45">15</text>
<line x1="81.5" y1="339.10" x2="128.7" y2="339.10" stroke="#c4c4c4" stroke-width="0.9"/>
<rect x="86.9" y="336.70" width="2.9" height="4.8" rx="0.4" fill="#36b332"/>
<text class="bn" x="88.35" y="340.20">1</text>
<rect x="90.2" y="336.70" width="4.7" height="4.8" rx="0.4" fill="#ff7396"/>
<text class="bn" x="92.55" y="340.20">3</text>
<rect x="96.0" y="336.70" width="4.4" height="4.8" rx="0.4" fill="#dd0a0a"/>
<text class="bn" x="98.20" y="340.20">18</text>
<rect x="102.2" y="336.70" width="4.7" height="4.8" rx="0.4" fill="#ff0a1e"/>
<text class="bn" x="104.55" y="340.20">5</text>
<rect x="107.4" y="336.70" width="7.7" height="4.8" rx="0.4" fill="#ffc800"/>
<text class="bn" x="111.25" y="340.20">2</text>
<rect x="115.6" y="336.70" width="3.3" height="4.8" rx="0.4" fill="#36b332"/>
<text class="bn" x="117.25" y="340.20">1</text>
<rect x="121.1" y="336.70" width="7.6" height="4.8" rx="0.4" fill="#1060d0"/>
<text class="bn" x="124.90" y="340.20">15</text>
<line x1="81.5" y1="346.85" x2="128.7" y2="346.85" stroke="#c4c4c4" stroke-width="0.9"/>
<rect x="86.9" y="344.45" width="2.9" height="4.8" rx="0.4" fill="#36b332"/>
<text class="bn" x="88.35" y="347.95">1</text>
<rect x="90.2" y="344.45" width="4.7" height="4.8" rx="0.4" fill="#ff7396"/>
<text class="bn" x="92.55" y="347.95">3</text>
<rect x="96.0" y="344.45" width="4.4" height="4.8" rx="0.4" fill="#dd0a0a"/>
<text class="bn" x="98.20" y="347.95">18</text>
<rect x="102.2" y="344.45" width="4.7" height="4.8" rx="0.4" fill="#ff0a1e"/>
<text class="bn" x="104.55" y="347.95">5</text>
<rect x="107.4" y="344.45" width="7.7" height="4.8" rx="0.4" fill="#ffc800"/>
<text class="bn" x="111.25" y="347.95">2</text>
<rect x="115.6" y="344.45" width="3.3" height="4.8" rx="0.4" fill="#36b332"/>
<text class="bn" x="117.25" y="347.95">1</text>
<rect x="121.1" y="344.45" width="7.6" height="4.8" rx="0.4" fill="#1060d0"/>
<text class="bn" x="124.90" y="347.95">15</text>
<line x1="81.5" y1="354.60" x2="126.0" y2="354.60" stroke="#c4c4c4" stroke-width="0.9"/>
<rect x="91.6" y="352.20" width="3.5" height="4.8" rx="1.0" fill="#0b0b3d"/>
<text class="bn" x="93.35" y="355.70">10</text>
<rect x="95.1" y="352.20" width="3.6" height="4.8" rx="1.0" fill="#0b0b3d"/>
<text class="bn" x="96.90" y="355.70">10</text>
<line x1="81.5" y1="362.35" x2="165.6" y2="362.35" stroke="#c4c4c4" stroke-width="0.9"/>
<rect x="117.3" y="359.95" width="2.7" height="4.8" rx="0.4" fill="#36b332"/>
<text class="bn" x="118.65" y="363.45">1</text>
<line x1="81.5" y1="370.10" x2="113.6" y2="370.10" stroke="#c4c4c4" stroke-width="0.9"/>
<rect x="104.9" y="367.70" width="2.9" height="4.8" rx="0.4" fill="#36b332"/>
<text class="bn" x="106.35" y="371.20">1</text>
<line x1="81.5" y1="377.85" x2="131.8" y2="377.85" stroke="#c4c4c4" stroke-width="0.9"/>
<rect x="90.8" y="375.45" width="2.9" height="4.8" rx="0.4" fill="#36b332"/>
<text class="bn" x="92.25" y="378.95">1</text>
<rect x="98.1" y="375.45" width="7.8" height="4.8" rx="0.4" fill="#1060d0"/>
<text class="bn" x="102.00" y="378.95">15</text>
<line x1="81.5" y1="385.60" x2="220.9" y2="385.60" stroke="#c4c4c4" stroke-width="0.9"/>
<rect x="161.8" y="383.20" width="4.2" height="4.8" rx="0.4" fill="#e04818"/>
<text class="bn" x="163.90" y="386.70">12</text>
<rect x="184.2" y="383.20" width="3.1" height="4.8" rx="0.4" fill="#36b332"/>
<text class="bn" x="185.75" y="386.70">1</text>
<rect x="191.8" y="383.20" width="7.7" height="4.8" rx="0.4" fill="#1060d0"/>
<text class="bn" x="195.65" y="386.70">15</text>
<line x1="81.5" y1="393.35" x2="232.7" y2="393.35" stroke="#c4c4c4" stroke-width="0.9"/>
<rect x="120.2" y="390.95" width="3.6" height="4.8" rx="1.0" fill="#0b0b3d"/>
<text class="bn" x="122.00" y="394.45">10</text>
<rect x="190.4" y="390.95" width="3.2" height="4.8" rx="0.4" fill="#36b332"/>
<text class="bn" x="192.00" y="394.45">1</text>
<rect x="193.6" y="390.95" width="8.2" height="4.8" rx="0.4" fill="#1060d0"/>
<text class="bn" x="197.70" y="394.45">15</text>
<rect x="222.7" y="390.95" width="4.6" height="4.8" rx="0.4" fill="#e04818"/>
<text class="bn" x="225.00" y="394.45">12</text>
<line x1="81.5" y1="401.10" x2="142.0" y2="401.10" stroke="#c4c4c4" stroke-width="0.9"/>
<rect x="118.4" y="398.70" width="2.9" height="4.8" rx="0.4" fill="#36b332"/>
<text class="bn" x="119.85" y="402.20">1</text>
<rect x="126.0" y="398.70" width="8.0" height="4.8" rx="0.4" fill="#1060d0"/>
<text class="bn" x="130.00" y="402.20">15</text>
<line x1="81.5" y1="408.85" x2="91.8" y2="408.85" stroke="#c4c4c4" stroke-width="0.9"/>
<rect x="82.7" y="406.45" width="2.9" height="4.8" rx="0.4" fill="#36b332"/>
<text class="bn" x="84.15" y="409.95">1</text>
<line x1="81.5" y1="416.60" x2="136.9" y2="416.60" stroke="#c4c4c4" stroke-width="0.9"/>
<line x1="81.5" y1="424.35" x2="131.8" y2="424.35" stroke="#c4c4c4" stroke-width="0.9"/>
<rect x="91.8" y="421.95" width="2.9" height="4.8" rx="0.4" fill="#36b332"/>
<text class="bn" x="93.25" y="425.45">1</text>
<rect x="95.5" y="421.95" width="4.3" height="4.8" rx="0.4" fill="#9a93bf"/>
<text class="bn" x="97.65" y="425.45">6</text>
<rect x="119.5" y="421.95" width="7.2" height="4.8" rx="0.4" fill="#9cd878"/>
<text class="bn" x="123.10" y="425.45">7</text>
<line x1="81.5" y1="432.10" x2="134.0" y2="432.10" stroke="#c4c4c4" stroke-width="0.9"/>
<rect x="91.1" y="429.70" width="2.9" height="4.8" rx="0.4" fill="#36b332"/>
<text class="bn" x="92.55" y="433.20">1</text>
<rect x="94.7" y="429.70" width="4.8" height="4.8" rx="0.4" fill="#9a93bf"/>
<text class="bn" x="97.10" y="433.20">6</text>
<rect x="112.2" y="429.70" width="8.0" height="4.8" rx="0.4" fill="#ffc800"/>
<text class="bn" x="116.20" y="433.20">2</text>
<rect x="121.6" y="429.70" width="7.3" height="4.8" rx="0.4" fill="#9cd878"/>
<text class="bn" x="125.25" y="433.20">7</text>
<line x1="81.5" y1="439.85" x2="134.0" y2="439.85" stroke="#c4c4c4" stroke-width="0.9"/>
<rect x="91.1" y="437.45" width="2.9" height="4.8" rx="0.4" fill="#36b332"/>
<text class="bn" x="92.55" y="440.95">1</text>
<rect x="94.7" y="437.45" width="4.8" height="4.8" rx="0.4" fill="#9a93bf"/>
<text class="bn" x="97.10" y="440.95">6</text>
<rect x="112.2" y="437.45" width="8.0" height="4.8" rx="0.4" fill="#ffc800"/>
<text class="bn" x="116.20" y="440.95">2</text>
<rect x="121.6" y="437.45" width="7.3" height="4.8" rx="0.4" fill="#9cd878"/>
<text class="bn" x="125.25" y="440.95">7</text>
<line x1="81.5" y1="447.60" x2="127.5" y2="447.60" stroke="#c4c4c4" stroke-width="0.9"/>
<rect x="81.2" y="445.20" width="3.3" height="4.8" rx="0.4" fill="#36b332"/>
<text class="bn" x="82.85" y="448.70">1</text>
<rect x="87.9" y="445.20" width="3.2" height="4.8" rx="1.0" fill="#0b0b3d"/>
<text class="bn" x="89.50" y="448.70">10</text>
<line x1="81.5" y1="455.35" x2="127.5" y2="455.35" stroke="#c4c4c4" stroke-width="0.9"/>
<rect x="81.2" y="452.95" width="3.3" height="4.8" rx="0.4" fill="#36b332"/>
<text class="bn" x="82.85" y="456.45">1</text>
<rect x="87.9" y="452.95" width="3.2" height="4.8" rx="1.0" fill="#0b0b3d"/>
<text class="bn" x="89.50" y="456.45">10</text>
<line x1="251.5" y1="29.10" x2="332.0" y2="29.10" stroke="#b8b8b8" stroke-width="0.9"/>
<rect x="251.8" y="26.80" width="4.8" height="4.6" fill="#36b332"/>
<rect x="259.1" y="26.80" width="1.7" height="4.6" fill="#36b332"/>
<rect x="262.9" y="26.80" width="2.7" height="4.6" fill="#36b332"/>
<rect x="270.9" y="26.80" width="1.5" height="4.6" fill="#36b332"/>
<rect x="274.3" y="26.80" width="1.6" height="4.6" fill="#36b332"/>
<rect x="277.6" y="26.80" width="1.5" height="4.6" fill="#36b332"/>
<rect x="290.0" y="26.80" width="1.9" height="4.6" fill="#36b332"/>
<rect x="294.4" y="26.80" width="1.7" height="4.6" fill="#36b332"/>
<rect x="307.2" y="26.80" width="2.8" height="4.6" fill="#36b332"/>
<rect x="313.9" y="26.80" width="1.9" height="4.6" fill="#36b332"/>
<rect x="325.9" y="26.80" width="3.8" height="4.6" fill="#36b332"/>
<rect x="330.5" y="26.80" width="1.5" height="4.6" fill="#36b332"/>
<line x1="251.5" y1="36.85" x2="329.7" y2="36.85" stroke="#b8b8b8" stroke-width="0.9"/>
<rect x="251.8" y="34.55" width="4.8" height="4.6" fill="#36b332"/>
<rect x="259.1" y="34.55" width="1.7" height="4.6" fill="#36b332"/>
<rect x="262.9" y="34.55" width="2.7" height="4.6" fill="#36b332"/>
<rect x="285.8" y="34.55" width="1.5" height="4.6" fill="#36b332"/>
<rect x="300.5" y="34.55" width="1.9" height="4.6" fill="#36b332"/>
<rect x="304.7" y="34.55" width="2.1" height="4.6" fill="#36b332"/>
<rect x="318.6" y="34.55" width="2.9" height="4.6" fill="#36b332"/>
<rect x="327.2" y="34.55" width="2.5" height="4.6" fill="#36b332"/>
<line x1="251.5" y1="44.60" x2="386.6" y2="44.60" stroke="#b8b8b8" stroke-width="0.9"/>
<rect x="251.8" y="42.30" width="2.5" height="4.6" fill="#36b332"/>
<rect x="266.1" y="42.30" width="4.8" height="4.6" fill="#36b332"/>
<rect x="273.4" y="42.30" width="1.7" height="4.6" fill="#36b332"/>
<rect x="277.0" y="42.30" width="2.5" height="4.6" fill="#36b332"/>
<rect x="302.4" y="42.30" width="5.7" height="4.6" fill="#36b332"/>
<rect x="320.2" y="42.30" width="5.1" height="4.6" fill="#36b332"/>
<rect x="327.2" y="42.30" width="1.9" height="4.6" fill="#36b332"/>
<rect x="331.0" y="42.30" width="2.5" height="4.6" fill="#36b332"/>
<rect x="339.3" y="42.30" width="1.9" height="4.6" fill="#36b332"/>
<rect x="343.1" y="42.30" width="1.3" height="4.6" fill="#36b332"/>
<rect x="345.7" y="42.30" width="2.2" height="4.6" fill="#36b332"/>
<rect x="358.0" y="42.30" width="1.9" height="4.6" fill="#36b332"/>
<rect x="362.2" y="42.30" width="1.9" height="4.6" fill="#36b332"/>
<rect x="375.5" y="42.30" width="2.9" height="4.6" fill="#36b332"/>
<rect x="384.1" y="42.30" width="2.5" height="4.6" fill="#36b332"/>
<line x1="251.5" y1="52.35" x2="351.1" y2="52.35" stroke="#b8b8b8" stroke-width="0.9"/>
<rect x="251.8" y="50.05" width="1.5" height="4.6" fill="#36b332"/>
<rect x="273.8" y="50.05" width="5.1" height="4.6" fill="#36b332"/>
<rect x="281.4" y="50.05" width="1.5" height="4.6" fill="#36b332"/>
<rect x="285.8" y="50.05" width="2.3" height="4.6" fill="#36b332"/>
<rect x="297.6" y="50.05" width="2.3" height="4.6" fill="#36b332"/>
<rect x="301.8" y="50.05" width="1.6" height="4.6" fill="#36b332"/>
<rect x="304.9" y="50.05" width="1.5" height="4.6" fill="#36b332"/>
<rect x="308.1" y="50.05" width="1.9" height="4.6" fill="#36b332"/>
<rect x="312.9" y="50.05" width="1.9" height="4.6" fill="#36b332"/>
<rect x="322.1" y="50.05" width="1.9" height="4.6" fill="#36b332"/>
<rect x="340.6" y="50.05" width="1.9" height="4.6" fill="#36b332"/>
<rect x="346.3" y="50.05" width="4.8" height="4.6" fill="#36b332"/>
<line x1="251.5" y1="60.10" x2="324.2" y2="60.10" stroke="#b8b8b8" stroke-width="0.9"/>
<rect x="251.4" y="57.80" width="1.4" height="4.6" fill="#ffc400"/>
<rect x="252.8" y="57.80" width="4.4" height="4.6" fill="#36b332"/>
<rect x="276.3" y="57.80" width="4.5" height="4.6" fill="#36b332"/>
<rect x="283.3" y="57.80" width="1.9" height="4.6" fill="#36b332"/>
<rect x="287.7" y="57.80" width="2.7" height="4.6" fill="#36b332"/>
<rect x="299.9" y="57.80" width="1.6" height="4.6" fill="#36b332"/>
<rect x="303.4" y="57.80" width="1.5" height="4.6" fill="#36b332"/>
<rect x="307.2" y="57.80" width="1.5" height="4.6" fill="#36b332"/>
<rect x="311.0" y="57.80" width="1.7" height="4.6" fill="#36b332"/>
<rect x="313.3" y="57.80" width="1.1" height="4.6" fill="#36b332"/>
<rect x="314.4" y="57.80" width="2.7" height="4.6" fill="#ffc400"/>
<rect x="323.4" y="57.80" width="0.8" height="4.6" fill="#ffc400"/>
<line x1="251.5" y1="67.85" x2="331.0" y2="67.85" stroke="#b8b8b8" stroke-width="0.9"/>
<rect x="251.4" y="65.55" width="1.4" height="4.6" fill="#ffc400"/>
<rect x="252.8" y="65.55" width="4.4" height="4.6" fill="#36b332"/>
<rect x="276.3" y="65.55" width="4.5" height="4.6" fill="#36b332"/>
<rect x="283.3" y="65.55" width="1.9" height="4.6" fill="#36b332"/>
<rect x="287.7" y="65.55" width="2.7" height="4.6" fill="#36b332"/>
<rect x="299.9" y="65.55" width="1.6" height="4.6" fill="#36b332"/>
<rect x="303.4" y="65.55" width="1.5" height="4.6" fill="#36b332"/>
<rect x="307.2" y="65.55" width="1.5" height="4.6" fill="#36b332"/>
<rect x="311.0" y="65.55" width="1.7" height="4.6" fill="#36b332"/>
<rect x="314.8" y="65.55" width="1.9" height="4.6" fill="#36b332"/>
<rect x="324.0" y="65.55" width="6.1" height="4.6" fill="#36b332"/>
<rect x="330.1" y="65.55" width="0.9" height="4.6" fill="#ffc400"/>
<line x1="251.5" y1="75.60" x2="356.5" y2="75.60" stroke="#b8b8b8" stroke-width="0.9"/>
<rect x="251.4" y="73.30" width="1.4" height="4.6" fill="#ffc400"/>
<rect x="252.8" y="73.30" width="4.4" height="4.6" fill="#36b332"/>
<rect x="276.3" y="73.30" width="4.5" height="4.6" fill="#36b332"/>
<rect x="283.3" y="73.30" width="1.9" height="4.6" fill="#36b332"/>
<rect x="287.7" y="73.30" width="2.7" height="4.6" fill="#36b332"/>
<rect x="299.9" y="73.30" width="1.6" height="4.6" fill="#36b332"/>
<rect x="303.4" y="73.30" width="1.5" height="4.6" fill="#36b332"/>
<rect x="307.2" y="73.30" width="1.5" height="4.6" fill="#36b332"/>
<rect x="311.0" y="73.30" width="1.7" height="4.6" fill="#36b332"/>
<rect x="314.8" y="73.30" width="1.9" height="4.6" fill="#36b332"/>
<rect x="324.0" y="73.30" width="2.3" height="4.6" fill="#36b332"/>
<rect x="341.9" y="73.30" width="3.1" height="4.6" fill="#36b332"/>
<rect x="347.9" y="73.30" width="8.6" height="4.6" fill="#ffc400"/>
<line x1="251.5" y1="83.35" x2="346.0" y2="83.35" stroke="#b8b8b8" stroke-width="0.9"/>
<rect x="251.4" y="81.05" width="1.4" height="4.6" fill="#ffc400"/>
<rect x="252.8" y="81.05" width="4.4" height="4.6" fill="#36b332"/>
<rect x="276.3" y="81.05" width="4.5" height="4.6" fill="#36b332"/>
<rect x="283.3" y="81.05" width="1.9" height="4.6" fill="#36b332"/>
<rect x="287.7" y="81.05" width="2.7" height="4.6" fill="#36b332"/>
<rect x="299.9" y="81.05" width="1.6" height="4.6" fill="#36b332"/>
<rect x="303.4" y="81.05" width="1.5" height="4.6" fill="#36b332"/>
<rect x="307.2" y="81.05" width="1.5" height="4.6" fill="#36b332"/>
<rect x="311.0" y="81.05" width="1.7" height="4.6" fill="#36b332"/>
<rect x="314.8" y="81.05" width="1.9" height="4.6" fill="#36b332"/>
<rect x="324.0" y="81.05" width="2.3" height="4.6" fill="#36b332"/>
<rect x="341.9" y="81.05" width="2.5" height="4.6" fill="#36b332"/>
<rect x="344.4" y="81.05" width="1.6" height="4.6" fill="#ffc400"/>
<line x1="251.5" y1="91.10" x2="380.9" y2="91.10" stroke="#b8b8b8" stroke-width="0.9"/>
<rect x="251.4" y="88.80" width="1.9" height="4.6" fill="#ffc400"/>
<rect x="253.3" y="88.80" width="4.2" height="4.6" fill="#36b332"/>
<rect x="276.3" y="88.80" width="4.5" height="4.6" fill="#36b332"/>
<rect x="307.6" y="88.80" width="1.1" height="4.6" fill="#36b332"/>
<rect x="312.0" y="88.80" width="2.4" height="4.6" fill="#36b332"/>
<rect x="324.4" y="88.80" width="1.5" height="4.6" fill="#36b332"/>
<rect x="327.8" y="88.80" width="1.1" height="4.6" fill="#36b332"/>
<rect x="331.0" y="88.80" width="1.4" height="4.6" fill="#36b332"/>
<rect x="334.9" y="88.80" width="1.9" height="4.6" fill="#36b332"/>
<rect x="339.3" y="88.80" width="1.9" height="4.6" fill="#36b332"/>
<rect x="348.2" y="88.80" width="2.9" height="4.6" fill="#36b332"/>
<rect x="366.0" y="88.80" width="2.9" height="4.6" fill="#36b332"/>
<rect x="368.9" y="88.80" width="12.0" height="4.6" fill="#ffc400"/>
<line x1="251.5" y1="98.85" x2="380.9" y2="98.85" stroke="#b8b8b8" stroke-width="0.9"/>
<rect x="251.4" y="96.55" width="1.9" height="4.6" fill="#ffc400"/>
<rect x="253.3" y="96.55" width="4.2" height="4.6" fill="#36b332"/>
<rect x="276.3" y="96.55" width="4.5" height="4.6" fill="#36b332"/>
<rect x="307.6" y="96.55" width="1.1" height="4.6" fill="#36b332"/>
<rect x="312.0" y="96.55" width="2.4" height="4.6" fill="#36b332"/>
<rect x="324.4" y="96.55" width="1.5" height="4.6" fill="#36b332"/>
<rect x="327.8" y="96.55" width="1.1" height="4.6" fill="#36b332"/>
<rect x="331.0" y="96.55" width="1.4" height="4.6" fill="#36b332"/>
<rect x="334.9" y="96.55" width="1.9" height="4.6" fill="#36b332"/>
<rect x="339.3" y="96.55" width="1.9" height="4.6" fill="#36b332"/>
<rect x="348.2" y="96.55" width="2.9" height="4.6" fill="#36b332"/>
<rect x="366.0" y="96.55" width="2.3" height="4.6" fill="#36b332"/>
<rect x="371.7" y="96.55" width="9.2" height="4.6" fill="#ffc400"/>
<line x1="251.5" y1="106.60" x2="345.4" y2="106.60" stroke="#b8b8b8" stroke-width="0.9"/>
<rect x="251.4" y="104.30" width="1.9" height="4.6" fill="#ffc400"/>
<rect x="253.3" y="104.30" width="3.3" height="4.6" fill="#36b332"/>
<rect x="276.3" y="104.30" width="4.2" height="4.6" fill="#36b332"/>
<rect x="307.2" y="104.30" width="1.5" height="4.6" fill="#36b332"/>
<rect x="312.0" y="104.30" width="1.9" height="4.6" fill="#36b332"/>
<rect x="323.4" y="104.30" width="1.5" height="4.6" fill="#36b332"/>
<rect x="327.2" y="104.30" width="1.4" height="4.6" fill="#36b332"/>
<rect x="331.0" y="104.30" width="1.4" height="4.6" fill="#36b332"/>
<rect x="334.9" y="104.30" width="1.3" height="4.6" fill="#36b332"/>
<rect x="338.7" y="104.30" width="2.5" height="4.6" fill="#36b332"/>
<rect x="341.2" y="104.30" width="4.2" height="4.6" fill="#ffc400"/>
<line x1="251.5" y1="114.35" x2="312.9" y2="114.35" stroke="#b8b8b8" stroke-width="0.9"/>
<rect x="251.8" y="112.05" width="4.8" height="4.6" fill="#36b332"/>
<rect x="259.8" y="112.05" width="1.6" height="4.6" fill="#36b332"/>
<rect x="264.8" y="112.05" width="1.1" height="4.6" fill="#36b332"/>
<rect x="269.4" y="112.05" width="1.9" height="4.6" fill="#36b332"/>
<rect x="276.3" y="112.05" width="2.6" height="4.6" fill="#36b332"/>
<rect x="282.0" y="112.05" width="1.9" height="4.6" fill="#36b332"/>
<rect x="295.3" y="112.05" width="2.3" height="4.6" fill="#36b332"/>
<rect x="301.1" y="112.05" width="2.3" height="4.6" fill="#36b332"/>
<rect x="309.1" y="112.05" width="3.8" height="4.6" fill="#36b332"/>
<line x1="251.5" y1="122.10" x2="320.2" y2="122.10" stroke="#b8b8b8" stroke-width="0.9"/>
<rect x="251.8" y="119.80" width="4.8" height="4.6" fill="#36b332"/>
<rect x="259.8" y="119.80" width="1.6" height="4.6" fill="#36b332"/>
<rect x="264.2" y="119.80" width="1.6" height="4.6" fill="#36b332"/>
<rect x="269.0" y="119.80" width="1.0" height="4.6" fill="#36b332"/>
<rect x="271.3" y="119.80" width="1.5" height="4.6" fill="#36b332"/>
<rect x="276.3" y="119.80" width="2.2" height="4.6" fill="#36b332"/>
<rect x="283.3" y="119.80" width="2.5" height="4.6" fill="#36b332"/>
<rect x="288.5" y="119.80" width="2.5" height="4.6" fill="#36b332"/>
<rect x="302.4" y="119.80" width="2.3" height="4.6" fill="#36b332"/>
<rect x="308.1" y="119.80" width="1.9" height="4.6" fill="#36b332"/>
<rect x="316.3" y="119.80" width="3.9" height="4.6" fill="#36b332"/>
<line x1="251.5" y1="129.85" x2="345.6" y2="129.85" stroke="#b8b8b8" stroke-width="0.9"/>
<rect x="251.4" y="127.55" width="2.3" height="4.6" fill="#ffc400"/>
<rect x="253.7" y="127.55" width="5.8" height="4.6" fill="#36b332"/>
<rect x="278.9" y="127.55" width="2.5" height="4.6" fill="#36b332"/>
<rect x="287.7" y="127.55" width="2.3" height="4.6" fill="#36b332"/>
<rect x="292.9" y="127.55" width="2.8" height="4.6" fill="#36b332"/>
<rect x="306.8" y="127.55" width="2.3" height="4.6" fill="#36b332"/>
<rect x="312.0" y="127.55" width="1.9" height="4.6" fill="#36b332"/>
<rect x="320.2" y="127.55" width="3.2" height="4.6" fill="#36b332"/>
<rect x="342.5" y="127.55" width="3.1" height="4.6" fill="#ffc400"/>
<line x1="251.5" y1="137.60" x2="400.0" y2="137.60" stroke="#b8b8b8" stroke-width="0.9"/>
<rect x="251.8" y="135.30" width="0.9" height="4.6" fill="#36b332"/>
<rect x="256.6" y="135.30" width="4.4" height="4.6" fill="#36b332"/>
<rect x="274.3" y="135.30" width="6.2" height="4.6" fill="#36b332"/>
<rect x="297.6" y="135.30" width="2.3" height="4.6" fill="#36b332"/>
<rect x="303.0" y="135.30" width="1.3" height="4.6" fill="#36b332"/>
<rect x="317.7" y="135.30" width="2.5" height="4.6" fill="#36b332"/>
<rect x="345.7" y="135.30" width="2.2" height="4.6" fill="#36b332"/>
<rect x="358.0" y="135.30" width="2.7" height="4.6" fill="#36b332"/>
<rect x="370.2" y="135.30" width="2.5" height="4.6" fill="#36b332"/>
<rect x="396.2" y="135.30" width="3.8" height="4.6" fill="#36b332"/>
<line x1="251.5" y1="145.35" x2="391.8" y2="145.35" stroke="#b8b8b8" stroke-width="0.9"/>
<rect x="251.4" y="143.05" width="6.1" height="4.6" fill="#ffc400"/>
<rect x="257.5" y="143.05" width="5.8" height="4.6" fill="#36b332"/>
<rect x="280.5" y="143.05" width="2.4" height="4.6" fill="#36b332"/>
<rect x="299.9" y="143.05" width="3.1" height="4.6" fill="#36b332"/>
<rect x="329.7" y="143.05" width="2.3" height="4.6" fill="#36b332"/>
<rect x="341.5" y="143.05" width="2.9" height="4.6" fill="#36b332"/>
<rect x="353.6" y="143.05" width="1.9" height="4.6" fill="#36b332"/>
<rect x="379.4" y="143.05" width="3.4" height="4.6" fill="#36b332"/>
<rect x="382.8" y="143.05" width="9.0" height="4.6" fill="#ffc400"/>
<line x1="251.5" y1="153.10" x2="391.4" y2="153.10" stroke="#b8b8b8" stroke-width="0.9"/>
<rect x="251.4" y="150.80" width="6.1" height="4.6" fill="#ffc400"/>
<rect x="257.5" y="150.80" width="5.8" height="4.6" fill="#36b332"/>
<rect x="280.8" y="150.80" width="2.1" height="4.6" fill="#36b332"/>
<rect x="300.5" y="150.80" width="2.9" height="4.6" fill="#36b332"/>
<rect x="330.1" y="150.80" width="1.9" height="4.6" fill="#36b332"/>
<rect x="343.1" y="150.80" width="2.5" height="4.6" fill="#36b332"/>
<rect x="354.5" y="150.80" width="2.3" height="4.6" fill="#36b332"/>
<rect x="380.0" y="150.80" width="4.1" height="4.6" fill="#36b332"/>
<rect x="384.1" y="150.80" width="7.3" height="4.6" fill="#ffc400"/>
<line x1="251.5" y1="160.85" x2="329.1" y2="160.85" stroke="#b8b8b8" stroke-width="0.9"/>
<rect x="251.4" y="158.55" width="3.3" height="4.6" fill="#ffc400"/>
<rect x="254.7" y="158.55" width="5.7" height="4.6" fill="#36b332"/>
<rect x="280.1" y="158.55" width="2.3" height="4.6" fill="#36b332"/>
<rect x="289.0" y="158.55" width="2.9" height="4.6" fill="#36b332"/>
<rect x="294.8" y="158.55" width="1.9" height="4.6" fill="#36b332"/>
<rect x="307.6" y="158.55" width="2.4" height="4.6" fill="#36b332"/>
<rect x="312.9" y="158.55" width="1.9" height="4.6" fill="#36b332"/>
<rect x="320.9" y="158.55" width="4.4" height="4.6" fill="#36b332"/>
<rect x="325.3" y="158.55" width="3.8" height="4.6" fill="#ffc400"/>
<line x1="251.5" y1="168.60" x2="316.3" y2="168.60" stroke="#b8b8b8" stroke-width="0.9"/>
<rect x="251.4" y="166.30" width="3.3" height="4.6" fill="#ffc400"/>
<rect x="254.7" y="166.30" width="5.7" height="4.6" fill="#36b332"/>
<rect x="273.2" y="166.30" width="1.9" height="4.6" fill="#36b332"/>
<rect x="280.1" y="166.30" width="2.6" height="4.6" fill="#36b332"/>
<rect x="285.8" y="166.30" width="1.9" height="4.6" fill="#36b332"/>
<rect x="299.2" y="166.30" width="2.3" height="4.6" fill="#36b332"/>
<rect x="304.9" y="166.30" width="1.9" height="4.6" fill="#36b332"/>
<rect x="312.9" y="166.30" width="3.4" height="4.6" fill="#36b332"/>
<line x1="251.5" y1="176.35" x2="293.1" y2="176.35" stroke="#b8b8b8" stroke-width="0.9"/>
<rect x="251.8" y="174.05" width="8.6" height="4.6" fill="#36b332"/>
<rect x="283.9" y="174.05" width="5.7" height="4.6" fill="#36b332"/>
<rect x="292.3" y="174.05" width="0.8" height="4.6" fill="#36b332"/>
<line x1="251.5" y1="184.10" x2="311.4" y2="184.10" stroke="#b8b8b8" stroke-width="0.9"/>
<rect x="251.8" y="181.80" width="4.8" height="4.6" fill="#36b332"/>
<rect x="268.0" y="181.80" width="10.5" height="4.6" fill="#36b332"/>
<rect x="303.4" y="181.80" width="8.0" height="4.6" fill="#36b332"/>
<line x1="251.5" y1="191.85" x2="354.2" y2="191.85" stroke="#b8b8b8" stroke-width="0.9"/>
<rect x="251.8" y="189.55" width="0.8" height="4.6" fill="#36b332"/>
<rect x="256.0" y="189.55" width="8.8" height="4.6" fill="#36b332"/>
<rect x="267.1" y="189.55" width="2.9" height="4.6" fill="#36b332"/>
<rect x="272.4" y="189.55" width="2.3" height="4.6" fill="#36b332"/>
<rect x="283.3" y="189.55" width="4.4" height="4.6" fill="#36b332"/>
<rect x="308.7" y="189.55" width="1.9" height="4.6" fill="#36b332"/>
<rect x="334.9" y="189.55" width="4.4" height="4.6" fill="#36b332"/>
<rect x="341.5" y="189.55" width="12.7" height="4.6" fill="#36b332"/>
<line x1="251.5" y1="199.60" x2="340.6" y2="199.60" stroke="#b8b8b8" stroke-width="0.9"/>
<rect x="251.8" y="197.30" width="1.5" height="4.6" fill="#ffc400"/>
<rect x="268.6" y="197.30" width="2.7" height="4.6" fill="#ffc400"/>
<rect x="283.9" y="197.30" width="1.9" height="4.6" fill="#ffc400"/>
<rect x="285.8" y="197.30" width="1.3" height="4.6" fill="#36b332"/>
<rect x="290.0" y="197.30" width="1.9" height="4.6" fill="#36b332"/>
<rect x="310.6" y="197.30" width="21.4" height="4.6" fill="#36b332"/>
<rect x="332.0" y="197.30" width="8.6" height="4.6" fill="#ffc400"/>
<line x1="251.5" y1="207.35" x2="336.8" y2="207.35" stroke="#b8b8b8" stroke-width="0.9"/>
<rect x="251.8" y="205.05" width="1.5" height="4.6" fill="#ffc400"/>
<rect x="268.6" y="205.05" width="2.7" height="4.6" fill="#ffc400"/>
<rect x="283.9" y="205.05" width="1.9" height="4.6" fill="#ffc400"/>
<rect x="285.8" y="205.05" width="1.3" height="4.6" fill="#36b332"/>
<rect x="290.0" y="205.05" width="1.9" height="4.6" fill="#36b332"/>
<rect x="310.6" y="205.05" width="21.4" height="4.6" fill="#36b332"/>
<rect x="332.0" y="205.05" width="4.8" height="4.6" fill="#ffc400"/>
<line x1="251.5" y1="215.10" x2="336.8" y2="215.10" stroke="#b8b8b8" stroke-width="0.9"/>
<rect x="251.8" y="212.80" width="1.5" height="4.6" fill="#ffc400"/>
<rect x="268.6" y="212.80" width="2.7" height="4.6" fill="#ffc400"/>
<rect x="283.9" y="212.80" width="1.9" height="4.6" fill="#ffc400"/>
<rect x="285.8" y="212.80" width="1.3" height="4.6" fill="#36b332"/>
<rect x="290.0" y="212.80" width="1.9" height="4.6" fill="#36b332"/>
<rect x="310.6" y="212.80" width="21.4" height="4.6" fill="#36b332"/>
<rect x="332.0" y="212.80" width="4.8" height="4.6" fill="#ffc400"/>
<line x1="251.5" y1="222.85" x2="340.6" y2="222.85" stroke="#b8b8b8" stroke-width="0.9"/>
<rect x="251.8" y="220.55" width="1.5" height="4.6" fill="#ffc400"/>
<rect x="268.6" y="220.55" width="2.7" height="4.6" fill="#ffc400"/>
<rect x="283.9" y="220.55" width="1.9" height="4.6" fill="#ffc400"/>
<rect x="285.8" y="220.55" width="1.3" height="4.6" fill="#36b332"/>
<rect x="290.0" y="220.55" width="1.9" height="4.6" fill="#36b332"/>
<rect x="310.6" y="220.55" width="21.4" height="4.6" fill="#36b332"/>
<rect x="332.0" y="220.55" width="8.6" height="4.6" fill="#ffc400"/>
<line x1="251.5" y1="230.60" x2="324.4" y2="230.60" stroke="#b8b8b8" stroke-width="0.9"/>
<rect x="251.8" y="228.30" width="2.9" height="4.6" fill="#ffc400"/>
<rect x="267.1" y="228.30" width="2.3" height="4.6" fill="#ffc400"/>
<rect x="269.4" y="228.30" width="1.1" height="4.6" fill="#36b332"/>
<rect x="273.2" y="228.30" width="1.9" height="4.6" fill="#36b332"/>
<rect x="294.2" y="228.30" width="20.6" height="4.6" fill="#36b332"/>
<rect x="314.8" y="228.30" width="9.6" height="4.6" fill="#ffc400"/>
<line x1="251.5" y1="238.35" x2="297.6" y2="238.35" stroke="#b8b8b8" stroke-width="0.9"/>
<rect x="251.8" y="236.05" width="1.0" height="4.6" fill="#36b332"/>
<rect x="255.3" y="236.05" width="1.9" height="4.6" fill="#36b332"/>
<rect x="276.3" y="236.05" width="4.2" height="4.6" fill="#36b332"/>
<rect x="282.7" y="236.05" width="14.9" height="4.6" fill="#36b332"/>
<line x1="251.5" y1="246.10" x2="297.3" y2="246.10" stroke="#b8b8b8" stroke-width="0.9"/>
<rect x="251.8" y="243.80" width="1.0" height="4.6" fill="#36b332"/>
<rect x="255.3" y="243.80" width="1.9" height="4.6" fill="#36b332"/>
<rect x="276.3" y="243.80" width="5.7" height="4.6" fill="#36b332"/>
<rect x="285.2" y="243.80" width="3.3" height="4.6" fill="#36b332"/>
<rect x="290.4" y="243.80" width="6.9" height="4.6" fill="#36b332"/>
<line x1="251.5" y1="253.85" x2="297.3" y2="253.85" stroke="#b8b8b8" stroke-width="0.9"/>
<rect x="251.8" y="251.55" width="1.0" height="4.6" fill="#36b332"/>
<rect x="255.3" y="251.55" width="1.9" height="4.6" fill="#36b332"/>
<rect x="276.3" y="251.55" width="13.3" height="4.6" fill="#36b332"/>
<rect x="292.3" y="251.55" width="5.0" height="4.6" fill="#36b332"/>
<line x1="251.5" y1="261.60" x2="344.4" y2="261.60" stroke="#b8b8b8" stroke-width="0.9"/>
<rect x="251.8" y="259.30" width="1.0" height="4.6" fill="#ffc400"/>
<rect x="252.8" y="259.30" width="3.8" height="4.6" fill="#36b332"/>
<rect x="267.5" y="259.30" width="2.5" height="4.6" fill="#36b332"/>
<rect x="271.9" y="259.30" width="2.8" height="4.6" fill="#36b332"/>
<rect x="282.0" y="259.30" width="1.3" height="4.6" fill="#36b332"/>
<rect x="286.2" y="259.30" width="1.5" height="4.6" fill="#36b332"/>
<rect x="291.0" y="259.30" width="1.9" height="4.6" fill="#36b332"/>
<rect x="302.4" y="259.30" width="1.3" height="4.6" fill="#36b332"/>
<rect x="306.2" y="259.30" width="2.5" height="4.6" fill="#36b332"/>
<rect x="312.0" y="259.30" width="2.4" height="4.6" fill="#36b332"/>
<rect x="323.4" y="259.30" width="1.9" height="4.6" fill="#36b332"/>
<rect x="334.9" y="259.30" width="1.9" height="4.6" fill="#36b332"/>
<rect x="338.7" y="259.30" width="5.7" height="4.6" fill="#ffc400"/>
<line x1="251.5" y1="269.35" x2="377.5" y2="269.35" stroke="#b8b8b8" stroke-width="0.9"/>
<rect x="251.8" y="267.05" width="1.0" height="4.6" fill="#36b332"/>
<rect x="255.3" y="267.05" width="2.2" height="4.6" fill="#36b332"/>
<rect x="279.5" y="267.05" width="2.5" height="4.6" fill="#36b332"/>
<rect x="283.9" y="267.05" width="1.3" height="4.6" fill="#36b332"/>
<rect x="291.5" y="267.05" width="2.7" height="4.6" fill="#36b332"/>
<rect x="304.9" y="267.05" width="3.2" height="4.6" fill="#36b332"/>
<rect x="309.5" y="267.05" width="3.4" height="4.6" fill="#36b332"/>
<rect x="319.0" y="267.05" width="1.5" height="4.6" fill="#36b332"/>
<rect x="323.4" y="267.05" width="1.9" height="4.6" fill="#36b332"/>
<rect x="328.2" y="267.05" width="1.5" height="4.6" fill="#36b332"/>
<rect x="339.6" y="267.05" width="1.6" height="4.6" fill="#36b332"/>
<rect x="345.7" y="267.05" width="2.7" height="4.6" fill="#36b332"/>
<rect x="352.3" y="267.05" width="2.2" height="4.6" fill="#36b332"/>
<rect x="363.1" y="267.05" width="2.5" height="4.6" fill="#36b332"/>
<rect x="375.2" y="267.05" width="2.3" height="4.6" fill="#36b332"/>
<line x1="251.5" y1="277.10" x2="386.6" y2="277.10" stroke="#b8b8b8" stroke-width="0.9"/>
<rect x="251.8" y="274.80" width="2.3" height="4.6" fill="#ffc400"/>
<rect x="254.1" y="274.80" width="1.9" height="4.6" fill="#36b332"/>
<rect x="259.1" y="274.80" width="2.6" height="4.6" fill="#36b332"/>
<rect x="284.3" y="274.80" width="2.8" height="4.6" fill="#36b332"/>
<rect x="289.0" y="274.80" width="1.0" height="4.6" fill="#36b332"/>
<rect x="296.1" y="274.80" width="3.1" height="4.6" fill="#36b332"/>
<rect x="309.5" y="274.80" width="3.0" height="4.6" fill="#36b332"/>
<rect x="314.4" y="274.80" width="2.7" height="4.6" fill="#36b332"/>
<rect x="324.4" y="274.80" width="1.5" height="4.6" fill="#36b332"/>
<rect x="328.6" y="274.80" width="1.5" height="4.6" fill="#36b332"/>
<rect x="333.5" y="274.80" width="1.4" height="4.6" fill="#36b332"/>
<rect x="344.4" y="274.80" width="1.3" height="4.6" fill="#36b332"/>
<rect x="347.9" y="274.80" width="2.6" height="4.6" fill="#36b332"/>
<rect x="354.2" y="274.80" width="2.6" height="4.6" fill="#36b332"/>
<rect x="365.6" y="274.80" width="2.7" height="4.6" fill="#36b332"/>
<rect x="377.5" y="274.80" width="1.5" height="4.6" fill="#36b332"/>
<rect x="381.3" y="274.80" width="5.3" height="4.6" fill="#ffc400"/>
<line x1="251.5" y1="284.85" x2="386.0" y2="284.85" stroke="#b8b8b8" stroke-width="0.9"/>
<rect x="251.8" y="282.55" width="2.3" height="4.6" fill="#ffc400"/>
<rect x="254.1" y="282.55" width="1.5" height="4.6" fill="#36b332"/>
<rect x="258.5" y="282.55" width="1.9" height="4.6" fill="#36b332"/>
<rect x="283.3" y="282.55" width="2.9" height="4.6" fill="#36b332"/>
<rect x="295.7" y="282.55" width="2.9" height="4.6" fill="#36b332"/>
<rect x="309.1" y="282.55" width="2.9" height="4.6" fill="#36b332"/>
<rect x="313.9" y="282.55" width="2.8" height="4.6" fill="#36b332"/>
<rect x="324.0" y="282.55" width="1.3" height="4.6" fill="#36b332"/>
<rect x="327.8" y="282.55" width="1.3" height="4.6" fill="#36b332"/>
<rect x="332.9" y="282.55" width="1.4" height="4.6" fill="#36b332"/>
<rect x="343.5" y="282.55" width="1.5" height="4.6" fill="#36b332"/>
<rect x="347.3" y="282.55" width="2.3" height="4.6" fill="#36b332"/>
<rect x="353.0" y="282.55" width="2.5" height="4.6" fill="#36b332"/>
<rect x="364.1" y="282.55" width="2.9" height="4.6" fill="#36b332"/>
<rect x="375.9" y="282.55" width="1.6" height="4.6" fill="#36b332"/>
<rect x="379.7" y="282.55" width="6.3" height="4.6" fill="#ffc400"/>
<line x1="251.5" y1="292.60" x2="388.0" y2="292.60" stroke="#b8b8b8" stroke-width="0.9"/>
<rect x="251.8" y="290.30" width="2.3" height="4.6" fill="#ffc400"/>
<rect x="254.1" y="290.30" width="1.9" height="4.6" fill="#36b332"/>
<rect x="259.1" y="290.30" width="2.6" height="4.6" fill="#36b332"/>
<rect x="284.3" y="290.30" width="2.8" height="4.6" fill="#36b332"/>
<rect x="289.0" y="290.30" width="1.0" height="4.6" fill="#36b332"/>
<rect x="296.1" y="290.30" width="3.1" height="4.6" fill="#36b332"/>
<rect x="309.5" y="290.30" width="3.0" height="4.6" fill="#36b332"/>
<rect x="314.4" y="290.30" width="2.7" height="4.6" fill="#36b332"/>
<rect x="324.4" y="290.30" width="1.5" height="4.6" fill="#36b332"/>
<rect x="328.6" y="290.30" width="1.5" height="4.6" fill="#36b332"/>
<rect x="333.5" y="290.30" width="1.4" height="4.6" fill="#36b332"/>
<rect x="344.4" y="290.30" width="1.3" height="4.6" fill="#36b332"/>
<rect x="347.9" y="290.30" width="2.6" height="4.6" fill="#36b332"/>
<rect x="354.2" y="290.30" width="2.6" height="4.6" fill="#36b332"/>
<rect x="365.6" y="290.30" width="2.7" height="4.6" fill="#36b332"/>
<rect x="377.5" y="290.30" width="1.5" height="4.6" fill="#36b332"/>
<rect x="380.3" y="290.30" width="7.7" height="4.6" fill="#ffc400"/>
<line x1="251.5" y1="300.35" x2="388.0" y2="300.35" stroke="#b8b8b8" stroke-width="0.9"/>
<rect x="251.8" y="298.05" width="2.3" height="4.6" fill="#ffc400"/>
<rect x="254.1" y="298.05" width="1.9" height="4.6" fill="#36b332"/>
<rect x="259.1" y="298.05" width="2.6" height="4.6" fill="#36b332"/>
<rect x="284.3" y="298.05" width="2.8" height="4.6" fill="#36b332"/>
<rect x="289.0" y="298.05" width="1.0" height="4.6" fill="#36b332"/>
<rect x="296.1" y="298.05" width="3.1" height="4.6" fill="#36b332"/>
<rect x="309.5" y="298.05" width="3.0" height="4.6" fill="#36b332"/>
<rect x="314.4" y="298.05" width="2.7" height="4.6" fill="#36b332"/>
<rect x="324.4" y="298.05" width="1.5" height="4.6" fill="#36b332"/>
<rect x="328.6" y="298.05" width="1.5" height="4.6" fill="#36b332"/>
<rect x="333.5" y="298.05" width="1.4" height="4.6" fill="#36b332"/>
<rect x="344.4" y="298.05" width="1.3" height="4.6" fill="#36b332"/>
<rect x="347.9" y="298.05" width="2.6" height="4.6" fill="#36b332"/>
<rect x="354.2" y="298.05" width="2.6" height="4.6" fill="#36b332"/>
<rect x="365.6" y="298.05" width="2.7" height="4.6" fill="#36b332"/>
<rect x="377.5" y="298.05" width="1.5" height="4.6" fill="#36b332"/>
<rect x="380.9" y="298.05" width="7.1" height="4.6" fill="#ffc400"/>
<line x1="251.5" y1="308.10" x2="438.9" y2="308.10" stroke="#b8b8b8" stroke-width="0.9"/>
<rect x="251.8" y="305.80" width="4.2" height="4.6" fill="#36b332"/>
<rect x="307.6" y="305.80" width="1.9" height="4.6" fill="#36b332"/>
<rect x="343.5" y="305.80" width="2.2" height="4.6" fill="#36b332"/>
<rect x="347.9" y="305.80" width="2.4" height="4.6" fill="#36b332"/>
<rect x="356.1" y="305.80" width="2.6" height="4.6" fill="#36b332"/>
<rect x="367.5" y="305.80" width="2.3" height="4.6" fill="#36b332"/>
<rect x="382.2" y="305.80" width="1.9" height="4.6" fill="#36b332"/>
<rect x="392.7" y="305.80" width="1.6" height="4.6" fill="#36b332"/>
<rect x="403.2" y="305.80" width="2.5" height="4.6" fill="#36b332"/>
<rect x="418.5" y="305.80" width="1.3" height="4.6" fill="#36b332"/>
<rect x="423.7" y="305.80" width="2.4" height="4.6" fill="#36b332"/>
<rect x="430.9" y="305.80" width="1.0" height="4.6" fill="#36b332"/>
<rect x="435.1" y="305.80" width="3.8" height="4.6" fill="#36b332"/>
<line x1="251.5" y1="315.85" x2="420.4" y2="315.85" stroke="#b8b8b8" stroke-width="0.9"/>
<rect x="251.8" y="313.55" width="4.2" height="4.6" fill="#36b332"/>
<rect x="307.6" y="313.55" width="1.7" height="4.6" fill="#36b332"/>
<rect x="343.5" y="313.55" width="1.9" height="4.6" fill="#36b332"/>
<rect x="347.3" y="313.55" width="2.5" height="4.6" fill="#36b332"/>
<rect x="355.5" y="313.55" width="2.5" height="4.6" fill="#36b332"/>
<rect x="367.5" y="313.55" width="1.9" height="4.6" fill="#36b332"/>
<rect x="373.3" y="313.55" width="2.2" height="4.6" fill="#36b332"/>
<rect x="388.9" y="313.55" width="1.5" height="4.6" fill="#36b332"/>
<rect x="393.7" y="313.55" width="2.5" height="4.6" fill="#36b332"/>
<rect x="405.1" y="313.55" width="3.9" height="4.6" fill="#36b332"/>
<rect x="409.0" y="313.55" width="11.4" height="4.6" fill="#ffc400"/>
<line x1="251.5" y1="323.60" x2="420.4" y2="323.60" stroke="#b8b8b8" stroke-width="0.9"/>
<rect x="251.8" y="321.30" width="4.2" height="4.6" fill="#36b332"/>
<rect x="307.6" y="321.30" width="1.7" height="4.6" fill="#36b332"/>
<rect x="343.5" y="321.30" width="1.9" height="4.6" fill="#36b332"/>
<rect x="347.3" y="321.30" width="2.5" height="4.6" fill="#36b332"/>
<rect x="355.5" y="321.30" width="2.5" height="4.6" fill="#36b332"/>
<rect x="367.5" y="321.30" width="1.9" height="4.6" fill="#36b332"/>
<rect x="373.3" y="321.30" width="2.2" height="4.6" fill="#36b332"/>
<rect x="388.9" y="321.30" width="1.5" height="4.6" fill="#36b332"/>
<rect x="393.7" y="321.30" width="2.5" height="4.6" fill="#36b332"/>
<rect x="405.1" y="321.30" width="3.9" height="4.6" fill="#36b332"/>
<rect x="413.7" y="321.30" width="6.7" height="4.6" fill="#ffc400"/>
<line x1="251.5" y1="331.35" x2="336.8" y2="331.35" stroke="#b8b8b8" stroke-width="0.9"/>
<rect x="251.8" y="329.05" width="1.0" height="4.6" fill="#ffc400"/>
<rect x="252.8" y="329.05" width="1.4" height="4.6" fill="#36b332"/>
<rect x="255.6" y="329.05" width="2.3" height="4.6" fill="#36b332"/>
<rect x="269.4" y="329.05" width="2.5" height="4.6" fill="#36b332"/>
<rect x="280.8" y="329.05" width="1.9" height="4.6" fill="#36b332"/>
<rect x="286.6" y="329.05" width="2.4" height="4.6" fill="#36b332"/>
<rect x="301.8" y="329.05" width="1.9" height="4.6" fill="#36b332"/>
<rect x="307.2" y="329.05" width="2.8" height="4.6" fill="#36b332"/>
<rect x="319.0" y="329.05" width="3.5" height="4.6" fill="#36b332"/>
<rect x="322.5" y="329.05" width="14.3" height="4.6" fill="#ffc400"/>
<line x1="251.5" y1="339.10" x2="336.8" y2="339.10" stroke="#b8b8b8" stroke-width="0.9"/>
<rect x="251.8" y="336.80" width="1.0" height="4.6" fill="#ffc400"/>
<rect x="252.8" y="336.80" width="1.4" height="4.6" fill="#36b332"/>
<rect x="255.6" y="336.80" width="2.3" height="4.6" fill="#36b332"/>
<rect x="269.4" y="336.80" width="2.5" height="4.6" fill="#36b332"/>
<rect x="280.8" y="336.80" width="1.9" height="4.6" fill="#36b332"/>
<rect x="286.6" y="336.80" width="2.4" height="4.6" fill="#36b332"/>
<rect x="301.8" y="336.80" width="1.9" height="4.6" fill="#36b332"/>
<rect x="307.2" y="336.80" width="2.8" height="4.6" fill="#36b332"/>
<rect x="319.0" y="336.80" width="3.5" height="4.6" fill="#36b332"/>
<rect x="327.2" y="336.80" width="9.6" height="4.6" fill="#ffc400"/>
<line x1="251.5" y1="346.85" x2="336.8" y2="346.85" stroke="#b8b8b8" stroke-width="0.9"/>
<rect x="251.8" y="344.55" width="1.0" height="4.6" fill="#ffc400"/>
<rect x="252.8" y="344.55" width="1.4" height="4.6" fill="#36b332"/>
<rect x="255.6" y="344.55" width="2.3" height="4.6" fill="#36b332"/>
<rect x="269.4" y="344.55" width="2.5" height="4.6" fill="#36b332"/>
<rect x="280.8" y="344.55" width="1.9" height="4.6" fill="#36b332"/>
<rect x="286.6" y="344.55" width="2.4" height="4.6" fill="#36b332"/>
<rect x="301.8" y="344.55" width="1.9" height="4.6" fill="#36b332"/>
<rect x="307.2" y="344.55" width="2.8" height="4.6" fill="#36b332"/>
<rect x="319.0" y="344.55" width="3.9" height="4.6" fill="#36b332"/>
<rect x="322.9" y="344.55" width="13.9" height="4.6" fill="#ffc400"/>
<line x1="251.5" y1="354.60" x2="354.0" y2="354.60" stroke="#b8b8b8" stroke-width="0.9"/>
<rect x="251.8" y="352.30" width="4.2" height="4.6" fill="#ffc400"/>
<rect x="278.2" y="352.30" width="3.8" height="4.6" fill="#ffc400"/>
<rect x="286.2" y="352.30" width="8.0" height="4.6" fill="#ffc400"/>
<rect x="294.2" y="352.30" width="9.2" height="4.6" fill="#36b332"/>
<rect x="305.7" y="352.30" width="1.5" height="4.6" fill="#36b332"/>
<rect x="335.8" y="352.30" width="3.8" height="4.6" fill="#36b332"/>
<rect x="343.5" y="352.30" width="3.5" height="4.6" fill="#36b332"/>
<rect x="347.0" y="352.30" width="7.0" height="4.6" fill="#ffc400"/>
<line x1="251.5" y1="362.35" x2="330.4" y2="362.35" stroke="#b8b8b8" stroke-width="0.9"/>
<rect x="251.8" y="360.05" width="11.5" height="4.6" fill="#36b332"/>
<rect x="293.4" y="360.05" width="4.2" height="4.6" fill="#36b332"/>
<rect x="299.9" y="360.05" width="11.1" height="4.6" fill="#36b332"/>
<rect x="313.9" y="360.05" width="3.8" height="4.6" fill="#36b332"/>
<rect x="324.0" y="360.05" width="2.7" height="4.6" fill="#36b332"/>
<rect x="329.7" y="360.05" width="0.8" height="4.6" fill="#36b332"/>
<line x1="251.5" y1="370.10" x2="270.0" y2="370.10" stroke="#b8b8b8" stroke-width="0.9"/>
<rect x="251.8" y="367.80" width="2.9" height="4.6" fill="#36b332"/>
<rect x="259.8" y="367.80" width="10.2" height="4.6" fill="#36b332"/>
<line x1="251.5" y1="377.85" x2="275.1" y2="377.85" stroke="#b8b8b8" stroke-width="0.9"/>
<rect x="251.8" y="375.55" width="12.4" height="4.6" fill="#36b332"/>
<rect x="267.1" y="375.55" width="8.0" height="4.6" fill="#36b332"/>
<line x1="251.5" y1="385.60" x2="340.6" y2="385.60" stroke="#b8b8b8" stroke-width="0.9"/>
<rect x="251.8" y="383.30" width="4.8" height="4.6" fill="#36b332"/>
<rect x="259.1" y="383.30" width="4.2" height="4.6" fill="#36b332"/>
<rect x="273.2" y="383.30" width="1.9" height="4.6" fill="#36b332"/>
<rect x="277.0" y="383.30" width="2.5" height="4.6" fill="#36b332"/>
<rect x="291.0" y="383.30" width="10.8" height="4.6" fill="#36b332"/>
<rect x="303.7" y="383.30" width="13.0" height="4.6" fill="#36b332"/>
<rect x="322.1" y="383.30" width="18.5" height="4.6" fill="#36b332"/>
<line x1="251.5" y1="393.35" x2="337.7" y2="393.35" stroke="#b8b8b8" stroke-width="0.9"/>
<rect x="251.8" y="391.05" width="3.8" height="4.6" fill="#36b332"/>
<rect x="258.5" y="391.05" width="5.2" height="4.6" fill="#36b332"/>
<rect x="266.1" y="391.05" width="12.8" height="4.6" fill="#36b332"/>
<rect x="282.0" y="391.05" width="7.6" height="4.6" fill="#36b332"/>
<rect x="291.5" y="391.05" width="6.5" height="4.6" fill="#36b332"/>
<rect x="307.2" y="391.05" width="1.5" height="4.6" fill="#36b332"/>
<rect x="312.0" y="391.05" width="8.5" height="4.6" fill="#36b332"/>
<rect x="322.5" y="391.05" width="15.2" height="4.6" fill="#36b332"/>
<line x1="251.5" y1="401.10" x2="316.7" y2="401.10" stroke="#b8b8b8" stroke-width="0.9"/>
<rect x="251.8" y="398.80" width="1.5" height="4.6" fill="#36b332"/>
<rect x="257.5" y="398.80" width="3.9" height="4.6" fill="#36b332"/>
<rect x="270.0" y="398.80" width="0.9" height="4.6" fill="#36b332"/>
<rect x="275.1" y="398.80" width="3.8" height="4.6" fill="#36b332"/>
<rect x="281.4" y="398.80" width="1.3" height="4.6" fill="#36b332"/>
<rect x="300.5" y="398.80" width="10.5" height="4.6" fill="#36b332"/>
<rect x="315.2" y="398.80" width="1.5" height="4.6" fill="#36b332"/>
<line x1="251.5" y1="408.85" x2="255.6" y2="408.85" stroke="#b8b8b8" stroke-width="0.9"/>
<rect x="251.8" y="406.55" width="3.8" height="4.6" fill="#36b332"/>
<line x1="251.5" y1="416.60" x2="296.7" y2="416.60" stroke="#b8b8b8" stroke-width="0.9"/>
<rect x="251.8" y="414.30" width="2.3" height="4.6" fill="#36b332"/>
<rect x="267.1" y="414.30" width="11.1" height="4.6" fill="#36b332"/>
<rect x="283.3" y="414.30" width="5.2" height="4.6" fill="#36b332"/>
<rect x="293.4" y="414.30" width="3.3" height="4.6" fill="#36b332"/>
<line x1="251.5" y1="424.35" x2="274.7" y2="424.35" stroke="#b8b8b8" stroke-width="0.9"/>
<rect x="251.8" y="422.05" width="14.9" height="4.6" fill="#36b332"/>
<rect x="268.6" y="422.05" width="6.1" height="4.6" fill="#36b332"/>
<line x1="251.5" y1="432.10" x2="283.3" y2="432.10" stroke="#b8b8b8" stroke-width="0.9"/>
<rect x="251.8" y="429.80" width="1.5" height="4.6" fill="#ffc400"/>
<rect x="253.3" y="429.80" width="23.0" height="4.6" fill="#36b332"/>
<rect x="276.3" y="429.80" width="7.0" height="4.6" fill="#ffc400"/>
<line x1="251.5" y1="439.85" x2="284.3" y2="439.85" stroke="#b8b8b8" stroke-width="0.9"/>
<rect x="251.8" y="437.55" width="1.5" height="4.6" fill="#ffc400"/>
<rect x="253.3" y="437.55" width="23.0" height="4.6" fill="#36b332"/>
<rect x="276.3" y="437.55" width="8.0" height="4.6" fill="#ffc400"/>
<line x1="251.5" y1="447.60" x2="337.7" y2="447.60" stroke="#b8b8b8" stroke-width="0.9"/>
<rect x="251.8" y="445.30" width="1.5" height="4.6" fill="#36b332"/>
<rect x="283.3" y="445.30" width="1.0" height="4.6" fill="#36b332"/>
<rect x="286.6" y="445.30" width="1.9" height="4.6" fill="#36b332"/>
<rect x="297.6" y="445.30" width="1.6" height="4.6" fill="#36b332"/>
<rect x="312.9" y="445.30" width="1.9" height="4.6" fill="#36b332"/>
<rect x="318.3" y="445.30" width="3.2" height="4.6" fill="#36b332"/>
<rect x="324.0" y="445.30" width="1.3" height="4.6" fill="#36b332"/>
<rect x="333.0" y="445.30" width="4.7" height="4.6" fill="#36b332"/>
<line x1="251.5" y1="455.35" x2="337.7" y2="455.35" stroke="#b8b8b8" stroke-width="0.9"/>
<rect x="251.8" y="453.05" width="1.5" height="4.6" fill="#36b332"/>
<rect x="283.3" y="453.05" width="1.0" height="4.6" fill="#36b332"/>
<rect x="286.6" y="453.05" width="1.9" height="4.6" fill="#36b332"/>
<rect x="297.6" y="453.05" width="1.6" height="4.6" fill="#36b332"/>
<rect x="312.9" y="453.05" width="1.9" height="4.6" fill="#36b332"/>
<rect x="317.7" y="453.05" width="3.3" height="4.6" fill="#36b332"/>
<rect x="324.0" y="453.05" width="1.3" height="4.6" fill="#36b332"/>
<rect x="330.1" y="453.05" width="1.9" height="4.6" fill="#36b332"/>
<rect x="334.3" y="453.05" width="3.4" height="4.6" fill="#36b332"/>
<line x1="81.5" y1="462.8" x2="244" y2="462.8" stroke="#c8c8c8" stroke-width="0.8"/>
<line x1="81.5" y1="462.8" x2="81.5" y2="464.0" stroke="#bbb" stroke-width="0.5"/>
<text class="ax" x="80.9" y="469.8">0</text>
<line x1="114.0" y1="462.8" x2="114.0" y2="464.0" stroke="#bbb" stroke-width="0.5"/>
<text class="ax" x="113.4" y="469.8">200</text>
<line x1="146.5" y1="462.8" x2="146.5" y2="464.0" stroke="#bbb" stroke-width="0.5"/>
<text class="ax" x="145.9" y="469.8">400</text>
<line x1="179.0" y1="462.8" x2="179.0" y2="464.0" stroke="#bbb" stroke-width="0.5"/>
<text class="ax" x="178.4" y="469.8">600</text>
<line x1="211.5" y1="462.8" x2="211.5" y2="464.0" stroke="#bbb" stroke-width="0.5"/>
<text class="ax" x="210.9" y="469.8">800</text>
<line x1="244.0" y1="462.8" x2="244.0" y2="464.0" stroke="#bbb" stroke-width="0.5"/>
<text class="ax" x="243.4" y="469.8">1000</text>
<line x1="251.4" y1="462.8" x2="459.5" y2="462.8" stroke="#c8c8c8" stroke-width="0.8"/>
<line x1="251.4" y1="462.8" x2="251.4" y2="464.0" stroke="#bbb" stroke-width="0.5"/>
<text class="ax" x="251.4" y="469.8">0</text>
<line x1="274.5" y1="462.8" x2="274.5" y2="464.0" stroke="#bbb" stroke-width="0.5"/>
<text class="ax" x="274.5" y="469.8">1000</text>
<line x1="297.6" y1="462.8" x2="297.6" y2="464.0" stroke="#bbb" stroke-width="0.5"/>
<text class="ax" x="297.6" y="469.8">2000</text>
<line x1="320.6" y1="462.8" x2="320.6" y2="464.0" stroke="#bbb" stroke-width="0.5"/>
<text class="ax" x="320.6" y="469.8">3000</text>
<line x1="343.7" y1="462.8" x2="343.7" y2="464.0" stroke="#bbb" stroke-width="0.5"/>
<text class="ax" x="343.7" y="469.8">4000</text>
<line x1="366.8" y1="462.8" x2="366.8" y2="464.0" stroke="#bbb" stroke-width="0.5"/>
<text class="ax" x="366.8" y="469.8">5000</text>
<line x1="389.9" y1="462.8" x2="389.9" y2="464.0" stroke="#bbb" stroke-width="0.5"/>
<text class="ax" x="389.9" y="469.8">6000</text>
<line x1="413.0" y1="462.8" x2="413.0" y2="464.0" stroke="#bbb" stroke-width="0.5"/>
<text class="ax" x="413.0" y="469.8">7000</text>
<line x1="436.0" y1="462.8" x2="436.0" y2="464.0" stroke="#bbb" stroke-width="0.5"/>
<text class="ax" x="436.0" y="469.8">8000</text>
<line x1="459.1" y1="462.8" x2="459.1" y2="464.0" stroke="#bbb" stroke-width="0.5"/>
<text class="ax" x="459.1" y="469.8">9000</text>
<text class="ax" x="78" y="462.5">5'</text>
<text class="ax" x="246" y="462.5">3'</text>
<text class="ax" x="249" y="462.5">5'</text>
<text class="ax" x="462" y="462.5">3'</text>
<rect x="439" y="25.05" width="11" height="4.5" fill="#0b0b3d"/>
<text class="lg" x="451" y="28.40">Motif 10</text>
<line x1="465.3" y1="24.70" x2="465.3" y2="29.70" stroke="#bbb" stroke-width="0.4"/>
<text class="lo" x="465.8" y="29.60" textLength="36.2" lengthAdjust="spacingAndGlyphs" fill-opacity="0.65"><tspan fill="#11aa33">F</tspan><tspan fill="#ee22ee">C</tspan><tspan fill="#2233ee">V</tspan><tspan fill="#2233ee">N</tspan><tspan fill="#11bbbb">C</tspan><tspan fill="#ff8800">H</tspan><tspan fill="#11aa33">D</tspan><tspan fill="#ee22ee">Q</tspan><tspan fill="#2233ee">I</tspan><tspan fill="#2233ee">V</tspan><tspan fill="#ee22ee">C</tspan><tspan fill="#11bbbb">E</tspan><tspan fill="#ddcc00">W</tspan><tspan fill="#11aa33">W</tspan><tspan fill="#11bbbb">P</tspan><tspan fill="#11aa33">I</tspan><tspan fill="#11aa33">V</tspan><tspan fill="#ee22ee">L</tspan><tspan fill="#ee22ee">F</tspan><tspan fill="#ff8800">E</tspan></text>
<rect x="439" y="30.94" width="11" height="4.5" fill="#36b332"/>
<text class="lg" x="451" y="34.29">Motif 1</text>
<line x1="465.3" y1="30.59" x2="465.3" y2="35.59" stroke="#bbb" stroke-width="0.4"/>
<text class="lo" x="465.8" y="35.49" textLength="33.2" lengthAdjust="spacingAndGlyphs" fill-opacity="0.65"><tspan fill="#11bbbb">L</tspan><tspan fill="#ff8800">G</tspan><tspan fill="#2233ee">W</tspan><tspan fill="#11bbbb">H</tspan><tspan fill="#11aa33">E</tspan><tspan fill="#ff8800">D</tspan><tspan fill="#11bbbb">C</tspan><tspan fill="#11bbbb">H</tspan><tspan fill="#dd2222">V</tspan><tspan fill="#ee22ee">M</tspan><tspan fill="#dd2222">W</tspan><tspan fill="#dd2222">N</tspan><tspan fill="#2233ee">I</tspan><tspan fill="#ee22ee">I</tspan><tspan fill="#2233ee">W</tspan><tspan fill="#2233ee">T</tspan><tspan fill="#dd2222">M</tspan><tspan fill="#4455ff">R</tspan></text>
<rect x="439" y="36.83" width="11" height="4.5" fill="#f9507c"/>
<text class="lg" x="451" y="40.18">Motif 3</text>
<line x1="465.3" y1="36.48" x2="465.3" y2="41.48" stroke="#bbb" stroke-width="0.4"/>
<text class="lo" x="465.8" y="41.38" textLength="33.7" lengthAdjust="spacingAndGlyphs" fill-opacity="0.65"><tspan fill="#2233ee">Y</tspan><tspan fill="#2233ee">E</tspan><tspan fill="#ff8800">Q</tspan><tspan fill="#ee22ee">M</tspan><tspan fill="#ee22ee">S</tspan><tspan fill="#ee22ee">C</tspan><tspan fill="#8844ee">D</tspan><tspan fill="#ff8800">W</tspan><tspan fill="#11aa33">M</tspan><tspan fill="#4455ff">N</tspan><tspan fill="#11bbbb">S</tspan><tspan fill="#11bbbb">R</tspan><tspan fill="#2233ee">D</tspan><tspan fill="#2233ee">S</tspan><tspan fill="#4455ff">D</tspan><tspan fill="#11aa33">L</tspan><tspan fill="#8844ee">W</tspan><tspan fill="#8844ee">R</tspan></text>
<rect x="439" y="42.72" width="11" height="4.5" fill="#5e3f8f"/>
<text class="lg" x="451" y="46.07">Motif 9</text>
<line x1="465.3" y1="42.37" x2="465.3" y2="47.37" stroke="#bbb" stroke-width="0.4"/>
<text class="lo" x="465.8" y="47.27" textLength="43.9" lengthAdjust="spacingAndGlyphs" fill-opacity="0.65"><tspan fill="#2233ee">P</tspan><tspan fill="#8844ee">N</tspan><tspan fill="#11aa33">R</tspan><tspan fill="#11aa33">G</tspan><tspan fill="#11bbbb">E</tspan><tspan fill="#dd2222">C</tspan><tspan fill="#ddcc00">L</tspan><tspan fill="#ee22ee">I</tspan><tspan fill="#ee22ee">P</tspan><tspan fill="#dd2222">D</tspan><tspan fill="#ee22ee">R</tspan><tspan fill="#ee22ee">V</tspan><tspan fill="#2233ee">F</tspan><tspan fill="#ee22ee">V</tspan><tspan fill="#2233ee">Q</tspan><tspan fill="#11aa33">P</tspan><tspan fill="#ddcc00">F</tspan><tspan fill="#2233ee">G</tspan><tspan fill="#ee22ee">I</tspan><tspan fill="#8844ee">I</tspan><tspan fill="#11aa33">S</tspan><tspan fill="#11bbbb">G</tspan><tspan fill="#2233ee">L</tspan><tspan fill="#11aa33">F</tspan></text>
<rect x="439" y="48.61" width="11" height="4.5" fill="#ff8fb0"/>
<text class="lg" x="451" y="51.96">Motif 14</text>
<line x1="465.3" y1="48.26" x2="465.3" y2="53.26" stroke="#bbb" stroke-width="0.4"/>
<text class="lo" x="465.8" y="53.16" textLength="49.6" lengthAdjust="spacingAndGlyphs" fill-opacity="0.65"><tspan fill="#ee22ee">V</tspan><tspan fill="#11aa33">Y</tspan><tspan fill="#11bbbb">M</tspan><tspan fill="#ee22ee">T</tspan><tspan fill="#11bbbb">C</tspan><tspan fill="#dd2222">V</tspan><tspan fill="#ee22ee">P</tspan><tspan fill="#ee22ee">P</tspan><tspan fill="#2233ee">S</tspan><tspan fill="#8844ee">P</tspan><tspan fill="#11aa33">H</tspan><tspan fill="#2233ee">H</tspan><tspan fill="#dd2222">G</tspan><tspan fill="#2233ee">M</tspan><tspan fill="#11bbbb">C</tspan><tspan fill="#2233ee">A</tspan><tspan fill="#11bbbb">F</tspan><tspan fill="#ff8800">E</tspan><tspan fill="#11aa33">Y</tspan><tspan fill="#11aa33">D</tspan><tspan fill="#ddcc00">Y</tspan><tspan fill="#ee22ee">F</tspan><tspan fill="#8844ee">K</tspan><tspan fill="#11aa33">Y</tspan><tspan fill="#11aa33">S</tspan><tspan fill="#2233ee">E</tspan><tspan fill="#dd2222">R</tspan></text>
<rect x="439" y="54.50" width="11" height="4.5" fill="#0f8a80"/>
<text class="lg" x="451" y="57.85">Motif 4</text>
<line x1="465.3" y1="54.15" x2="465.3" y2="59.15" stroke="#bbb" stroke-width="0.4"/>
<text class="lo" x="465.8" y="59.05" textLength="40.7" lengthAdjust="spacingAndGlyphs" fill-opacity="0.65"><tspan fill="#dd2222">S</tspan><tspan fill="#2233ee">D</tspan><tspan fill="#ee22ee">E</tspan><tspan fill="#4455ff">M</tspan><tspan fill="#4455ff">K</tspan><tspan fill="#dd2222">G</tspan><tspan fill="#ff8800">A</tspan><tspan fill="#ddcc00">T</tspan><tspan fill="#11aa33">F</tspan><tspan fill="#4455ff">V</tspan><tspan fill="#11aa33">T</tspan><tspan fill="#2233ee">D</tspan><tspan fill="#4455ff">K</tspan><tspan fill="#ff8800">N</tspan><tspan fill="#ee22ee">N</tspan><tspan fill="#ddcc00">V</tspan><tspan fill="#ff8800">T</tspan><tspan fill="#11aa33">I</tspan><tspan fill="#11bbbb">H</tspan><tspan fill="#ddcc00">P</tspan><tspan fill="#4455ff">I</tspan><tspan fill="#ddcc00">T</tspan></text>
<rect x="439" y="60.39" width="11" height="4.5" fill="#e04818"/>
<text class="lg" x="451" y="63.74">Motif 12</text>
<line x1="465.3" y1="60.04" x2="465.3" y2="65.04" stroke="#bbb" stroke-width="0.4"/>
<text class="lo" x="465.8" y="64.94" textLength="44.5" lengthAdjust="spacingAndGlyphs" fill-opacity="0.65"><tspan fill="#dd2222">N</tspan><tspan fill="#4455ff">A</tspan><tspan fill="#11aa33">K</tspan><tspan fill="#dd2222">K</tspan><tspan fill="#ddcc00">Y</tspan><tspan fill="#11aa33">R</tspan><tspan fill="#4455ff">N</tspan><tspan fill="#11aa33">D</tspan><tspan fill="#ddcc00">E</tspan><tspan fill="#ddcc00">S</tspan><tspan fill="#ddcc00">M</tspan><tspan fill="#ddcc00">S</tspan><tspan fill="#11bbbb">Y</tspan><tspan fill="#11aa33">S</tspan><tspan fill="#8844ee">N</tspan><tspan fill="#8844ee">D</tspan><tspan fill="#8844ee">E</tspan><tspan fill="#ee22ee">H</tspan><tspan fill="#dd2222">G</tspan><tspan fill="#ee22ee">M</tspan><tspan fill="#2233ee">P</tspan><tspan fill="#dd2222">P</tspan><tspan fill="#4455ff">D</tspan><tspan fill="#4455ff">G</tspan></text>
<rect x="439" y="66.28" width="11" height="4.5" fill="#ffc800"/>
<text class="lg" x="451" y="69.63">Motif 2</text>
<line x1="465.3" y1="65.93" x2="465.3" y2="70.93" stroke="#bbb" stroke-width="0.4"/>
<text class="lo" x="465.8" y="70.83" textLength="65.2" lengthAdjust="spacingAndGlyphs" fill-opacity="0.65"><tspan fill="#ee22ee">F</tspan><tspan fill="#11aa33">F</tspan><tspan fill="#11bbbb">R</tspan><tspan fill="#8844ee">F</tspan><tspan fill="#11bbbb">Y</tspan><tspan fill="#dd2222">N</tspan><tspan fill="#ee22ee">V</tspan><tspan fill="#ff8800">F</tspan><tspan fill="#11aa33">A</tspan><tspan fill="#4455ff">E</tspan><tspan fill="#ff8800">F</tspan><tspan fill="#ee22ee">H</tspan><tspan fill="#ddcc00">A</tspan><tspan fill="#2233ee">H</tspan><tspan fill="#2233ee">T</tspan><tspan fill="#ddcc00">W</tspan><tspan fill="#11aa33">K</tspan><tspan fill="#ff8800">Q</tspan><tspan fill="#ee22ee">C</tspan><tspan fill="#4455ff">N</tspan><tspan fill="#dd2222">W</tspan><tspan fill="#ff8800">Q</tspan><tspan fill="#ff8800">F</tspan><tspan fill="#ff8800">F</tspan><tspan fill="#ff8800">T</tspan><tspan fill="#11aa33">R</tspan><tspan fill="#ee22ee">Y</tspan><tspan fill="#11aa33">F</tspan><tspan fill="#ee22ee">F</tspan><tspan fill="#dd2222">Y</tspan><tspan fill="#4455ff">E</tspan><tspan fill="#ff8800">C</tspan><tspan fill="#11aa33">T</tspan><tspan fill="#ff8800">V</tspan><tspan fill="#dd2222">E</tspan><tspan fill="#ff8800">C</tspan></text>
<rect x="439" y="72.17" width="11" height="4.5" fill="#9a93bf"/>
<text class="lg" x="451" y="75.52">Motif 6</text>
<line x1="465.3" y1="71.82" x2="465.3" y2="76.82" stroke="#bbb" stroke-width="0.4"/>
<text class="lo" x="465.8" y="76.72" textLength="37.2" lengthAdjust="spacingAndGlyphs" fill-opacity="0.65"><tspan fill="#ddcc00">H</tspan><tspan fill="#2233ee">C</tspan><tspan fill="#2233ee">T</tspan><tspan fill="#dd2222">V</tspan><tspan fill="#11aa33">D</tspan><tspan fill="#dd2222">M</tspan><tspan fill="#11bbbb">T</tspan><tspan fill="#11bbbb">T</tspan><tspan fill="#ddcc00">K</tspan><tspan fill="#dd2222">T</tspan><tspan fill="#ff8800">S</tspan><tspan fill="#ff8800">I</tspan><tspan fill="#4455ff">T</tspan><tspan fill="#2233ee">V</tspan><tspan fill="#ddcc00">R</tspan><tspan fill="#ee22ee">Q</tspan><tspan fill="#2233ee">P</tspan><tspan fill="#dd2222">M</tspan><tspan fill="#2233ee">I</tspan><tspan fill="#ee22ee">D</tspan></text>
<rect x="439" y="78.06" width="11" height="4.5" fill="#7b8a6d"/>
<text class="lg" x="451" y="81.41">Motif 11</text>
<line x1="465.3" y1="77.71" x2="465.3" y2="82.71" stroke="#bbb" stroke-width="0.4"/>
<text class="lo" x="465.8" y="82.61" textLength="65.8" lengthAdjust="spacingAndGlyphs" fill-opacity="0.65"><tspan fill="#ddcc00">L</tspan><tspan fill="#2233ee">F</tspan><tspan fill="#4455ff">N</tspan><tspan fill="#ee22ee">K</tspan><tspan fill="#ee22ee">R</tspan><tspan fill="#ddcc00">E</tspan><tspan fill="#ee22ee">S</tspan><tspan fill="#ee22ee">I</tspan><tspan fill="#ee22ee">Q</tspan><tspan fill="#ff8800">P</tspan><tspan fill="#11aa33">Q</tspan><tspan fill="#ddcc00">N</tspan><tspan fill="#11aa33">D</tspan><tspan fill="#4455ff">N</tspan><tspan fill="#11aa33">M</tspan><tspan fill="#ff8800">R</tspan><tspan fill="#dd2222">A</tspan><tspan fill="#ee22ee">M</tspan><tspan fill="#ff8800">Y</tspan><tspan fill="#2233ee">T</tspan><tspan fill="#2233ee">E</tspan><tspan fill="#ddcc00">E</tspan><tspan fill="#2233ee">K</tspan><tspan fill="#2233ee">C</tspan><tspan fill="#ee22ee">K</tspan><tspan fill="#ee22ee">Q</tspan><tspan fill="#8844ee">K</tspan><tspan fill="#ee22ee">F</tspan><tspan fill="#ff8800">T</tspan><tspan fill="#11bbbb">S</tspan><tspan fill="#4455ff">M</tspan><tspan fill="#2233ee">K</tspan><tspan fill="#11aa33">G</tspan><tspan fill="#ee22ee">D</tspan><tspan fill="#2233ee">A</tspan><tspan fill="#8844ee">D</tspan></text>
<rect x="439" y="83.95" width="11" height="4.5" fill="#ffb98a"/>
<text class="lg" x="451" y="87.30">Motif 16</text>
<line x1="465.3" y1="83.60" x2="465.3" y2="88.60" stroke="#bbb" stroke-width="0.4"/>
<text class="lo" x="465.8" y="88.50" textLength="61.0" lengthAdjust="spacingAndGlyphs" fill-opacity="0.65"><tspan fill="#2233ee">D</tspan><tspan fill="#11bbbb">I</tspan><tspan fill="#2233ee">K</tspan><tspan fill="#2233ee">R</tspan><tspan fill="#11aa33">M</tspan><tspan fill="#ff8800">Q</tspan><tspan fill="#2233ee">Y</tspan><tspan fill="#ee22ee">C</tspan><tspan fill="#ff8800">I</tspan><tspan fill="#2233ee">G</tspan><tspan fill="#2233ee">C</tspan><tspan fill="#ee22ee">H</tspan><tspan fill="#2233ee">L</tspan><tspan fill="#ff8800">H</tspan><tspan fill="#2233ee">R</tspan><tspan fill="#ff8800">G</tspan><tspan fill="#2233ee">N</tspan><tspan fill="#11aa33">K</tspan><tspan fill="#11aa33">A</tspan><tspan fill="#11aa33">T</tspan><tspan fill="#ff8800">H</tspan><tspan fill="#ff8800">S</tspan><tspan fill="#ddcc00">R</tspan><tspan fill="#2233ee">Q</tspan><tspan fill="#8844ee">S</tspan><tspan fill="#ff8800">P</tspan><tspan fill="#ff8800">L</tspan><tspan fill="#4455ff">H</tspan><tspan fill="#ddcc00">M</tspan><tspan fill="#ddcc00">F</tspan><tspan fill="#ee22ee">N</tspan><tspan fill="#11aa33">F</tspan><tspan fill="#11aa33">D</tspan></text>
<rect x="439" y="89.84" width="11" height="4.5" fill="#b0743a"/>
<text class="lg" x="451" y="93.19">Motif 20</text>
<line x1="465.3" y1="89.49" x2="465.3" y2="94.49" stroke="#bbb" stroke-width="0.4"/>
<text class="lo" x="465.8" y="94.39" textLength="48.2" lengthAdjust="spacingAndGlyphs" fill-opacity="0.65"><tspan fill="#8844ee">K</tspan><tspan fill="#ee22ee">G</tspan><tspan fill="#11aa33">D</tspan><tspan fill="#8844ee">P</tspan><tspan fill="#ff8800">L</tspan><tspan fill="#11bbbb">I</tspan><tspan fill="#4455ff">L</tspan><tspan fill="#11aa33">R</tspan><tspan fill="#ee22ee">G</tspan><tspan fill="#2233ee">R</tspan><tspan fill="#11aa33">K</tspan><tspan fill="#11aa33">M</tspan><tspan fill="#ff8800">M</tspan><tspan fill="#ddcc00">C</tspan><tspan fill="#2233ee">H</tspan><tspan fill="#11aa33">G</tspan><tspan fill="#11aa33">M</tspan><tspan fill="#ee22ee">D</tspan><tspan fill="#dd2222">K</tspan><tspan fill="#ff8800">H</tspan><tspan fill="#ddcc00">T</tspan><tspan fill="#11aa33">D</tspan><tspan fill="#2233ee">D</tspan><tspan fill="#ee22ee">P</tspan><tspan fill="#11bbbb">C</tspan><tspan fill="#ee22ee">A</tspan></text>
<rect x="439" y="95.73" width="11" height="4.5" fill="#ff0a1e"/>
<text class="lg" x="451" y="99.08">Motif 5</text>
<line x1="465.3" y1="95.38" x2="465.3" y2="100.38" stroke="#bbb" stroke-width="0.4"/>
<text class="lo" x="465.8" y="100.28" textLength="44.2" lengthAdjust="spacingAndGlyphs" fill-opacity="0.65"><tspan fill="#2233ee">L</tspan><tspan fill="#8844ee">I</tspan><tspan fill="#2233ee">W</tspan><tspan fill="#ff8800">F</tspan><tspan fill="#8844ee">Y</tspan><tspan fill="#ee22ee">M</tspan><tspan fill="#4455ff">S</tspan><tspan fill="#ee22ee">L</tspan><tspan fill="#4455ff">Y</tspan><tspan fill="#8844ee">F</tspan><tspan fill="#11aa33">T</tspan><tspan fill="#8844ee">Q</tspan><tspan fill="#4455ff">T</tspan><tspan fill="#ee22ee">T</tspan><tspan fill="#ff8800">W</tspan><tspan fill="#11aa33">W</tspan><tspan fill="#4455ff">I</tspan><tspan fill="#2233ee">A</tspan><tspan fill="#11aa33">F</tspan><tspan fill="#8844ee">N</tspan><tspan fill="#2233ee">P</tspan><tspan fill="#dd2222">V</tspan><tspan fill="#11aa33">A</tspan><tspan fill="#8844ee">V</tspan></text>
<rect x="439" y="101.62" width="11" height="4.5" fill="#ffa000"/>
<text class="lg" x="451" y="104.97">Motif 8</text>
<line x1="465.3" y1="101.27" x2="465.3" y2="106.27" stroke="#bbb" stroke-width="0.4"/>
<text class="lo" x="465.8" y="106.17" textLength="57.0" lengthAdjust="spacingAndGlyphs" fill-opacity="0.65"><tspan fill="#8844ee">I</tspan><tspan fill="#dd2222">K</tspan><tspan fill="#11aa33">R</tspan><tspan fill="#2233ee">T</tspan><tspan fill="#ff8800">D</tspan><tspan fill="#8844ee">T</tspan><tspan fill="#2233ee">S</tspan><tspan fill="#2233ee">D</tspan><tspan fill="#2233ee">I</tspan><tspan fill="#4455ff">H</tspan><tspan fill="#ddcc00">R</tspan><tspan fill="#dd2222">P</tspan><tspan fill="#2233ee">S</tspan><tspan fill="#8844ee">L</tspan><tspan fill="#11aa33">Y</tspan><tspan fill="#8844ee">H</tspan><tspan fill="#2233ee">Y</tspan><tspan fill="#ee22ee">M</tspan><tspan fill="#2233ee">L</tspan><tspan fill="#11bbbb">W</tspan><tspan fill="#ee22ee">A</tspan><tspan fill="#dd2222">C</tspan><tspan fill="#dd2222">K</tspan><tspan fill="#8844ee">E</tspan><tspan fill="#4455ff">H</tspan><tspan fill="#8844ee">S</tspan><tspan fill="#2233ee">T</tspan><tspan fill="#2233ee">R</tspan><tspan fill="#dd2222">R</tspan><tspan fill="#2233ee">V</tspan><tspan fill="#ddcc00">L</tspan></text>
<rect x="439" y="107.51" width="11" height="4.5" fill="#5a0008"/>
<text class="lg" x="451" y="110.86">Motif 17</text>
<line x1="465.3" y1="107.16" x2="465.3" y2="112.16" stroke="#bbb" stroke-width="0.4"/>
<text class="lo" x="465.8" y="112.06" textLength="37.8" lengthAdjust="spacingAndGlyphs" fill-opacity="0.65"><tspan fill="#2233ee">S</tspan><tspan fill="#11aa33">L</tspan><tspan fill="#dd2222">D</tspan><tspan fill="#ff8800">R</tspan><tspan fill="#2233ee">P</tspan><tspan fill="#ddcc00">H</tspan><tspan fill="#2233ee">W</tspan><tspan fill="#2233ee">F</tspan><tspan fill="#4455ff">T</tspan><tspan fill="#2233ee">N</tspan><tspan fill="#ee22ee">Y</tspan><tspan fill="#8844ee">T</tspan><tspan fill="#2233ee">E</tspan><tspan fill="#4455ff">N</tspan><tspan fill="#ddcc00">S</tspan><tspan fill="#dd2222">P</tspan><tspan fill="#11aa33">G</tspan><tspan fill="#11aa33">S</tspan><tspan fill="#8844ee">R</tspan><tspan fill="#ee22ee">L</tspan><tspan fill="#4455ff">F</tspan></text>
<rect x="439" y="113.40" width="11" height="4.5" fill="#9cd878"/>
<text class="lg" x="451" y="116.75">Motif 7</text>
<line x1="465.3" y1="113.05" x2="465.3" y2="118.05" stroke="#bbb" stroke-width="0.4"/>
<text class="lo" x="465.8" y="117.95" textLength="71.4" lengthAdjust="spacingAndGlyphs" fill-opacity="0.65"><tspan fill="#ee22ee">N</tspan><tspan fill="#ee22ee">M</tspan><tspan fill="#2233ee">M</tspan><tspan fill="#11aa33">M</tspan><tspan fill="#11aa33">P</tspan><tspan fill="#2233ee">H</tspan><tspan fill="#4455ff">A</tspan><tspan fill="#4455ff">L</tspan><tspan fill="#2233ee">N</tspan><tspan fill="#2233ee">P</tspan><tspan fill="#ee22ee">W</tspan><tspan fill="#2233ee">N</tspan><tspan fill="#ee22ee">K</tspan><tspan fill="#11aa33">K</tspan><tspan fill="#2233ee">C</tspan><tspan fill="#8844ee">L</tspan><tspan fill="#8844ee">F</tspan><tspan fill="#ddcc00">K</tspan><tspan fill="#ee22ee">T</tspan><tspan fill="#11aa33">H</tspan><tspan fill="#11aa33">Q</tspan><tspan fill="#11aa33">P</tspan><tspan fill="#ff8800">V</tspan><tspan fill="#ddcc00">D</tspan><tspan fill="#11aa33">Q</tspan><tspan fill="#dd2222">Y</tspan><tspan fill="#ee22ee">L</tspan><tspan fill="#dd2222">C</tspan><tspan fill="#ff8800">F</tspan><tspan fill="#ee22ee">S</tspan><tspan fill="#ee22ee">M</tspan><tspan fill="#2233ee">L</tspan><tspan fill="#2233ee">K</tspan><tspan fill="#ee22ee">I</tspan><tspan fill="#2233ee">S</tspan><tspan fill="#ff8800">P</tspan><tspan fill="#2233ee">G</tspan><tspan fill="#8844ee">G</tspan><tspan fill="#2233ee">H</tspan></text>
<rect x="439" y="119.29" width="11" height="4.5" fill="#5a7a1a"/>
<text class="lg" x="451" y="122.64">Motif 19</text>
<line x1="465.3" y1="118.94" x2="465.3" y2="123.94" stroke="#bbb" stroke-width="0.4"/>
<text class="lo" x="465.8" y="123.84" textLength="49.0" lengthAdjust="spacingAndGlyphs" fill-opacity="0.65"><tspan fill="#ff8800">S</tspan><tspan fill="#ff8800">I</tspan><tspan fill="#dd2222">M</tspan><tspan fill="#dd2222">Q</tspan><tspan fill="#ee22ee">V</tspan><tspan fill="#ddcc00">I</tspan><tspan fill="#2233ee">G</tspan><tspan fill="#11aa33">V</tspan><tspan fill="#2233ee">M</tspan><tspan fill="#ddcc00">N</tspan><tspan fill="#2233ee">W</tspan><tspan fill="#ddcc00">A</tspan><tspan fill="#4455ff">Q</tspan><tspan fill="#ee22ee">Q</tspan><tspan fill="#4455ff">T</tspan><tspan fill="#ddcc00">P</tspan><tspan fill="#2233ee">M</tspan><tspan fill="#11aa33">S</tspan><tspan fill="#2233ee">W</tspan><tspan fill="#11aa33">F</tspan><tspan fill="#8844ee">T</tspan><tspan fill="#ff8800">H</tspan><tspan fill="#2233ee">K</tspan><tspan fill="#ddcc00">P</tspan><tspan fill="#ee22ee">R</tspan><tspan fill="#ee22ee">L</tspan><tspan fill="#11aa33">F</tspan></text>
<rect x="439" y="125.18" width="11" height="4.5" fill="#dd0a0a"/>
<text class="lg" x="451" y="128.53">Motif 18</text>
<line x1="465.3" y1="124.83" x2="465.3" y2="129.83" stroke="#bbb" stroke-width="0.4"/>
<text class="lo" x="465.8" y="129.73" textLength="32.2" lengthAdjust="spacingAndGlyphs" fill-opacity="0.65"><tspan fill="#11aa33">Q</tspan><tspan fill="#4455ff">S</tspan><tspan fill="#11bbbb">S</tspan><tspan fill="#11aa33">D</tspan><tspan fill="#ee22ee">T</tspan><tspan fill="#dd2222">R</tspan><tspan fill="#ddcc00">E</tspan><tspan fill="#ddcc00">F</tspan><tspan fill="#ee22ee">T</tspan><tspan fill="#8844ee">E</tspan><tspan fill="#4455ff">R</tspan><tspan fill="#2233ee">V</tspan><tspan fill="#11aa33">A</tspan><tspan fill="#ee22ee">I</tspan><tspan fill="#11bbbb">C</tspan><tspan fill="#8844ee">L</tspan><tspan fill="#ee22ee">K</tspan></text>
<rect x="439" y="131.07" width="11" height="4.5" fill="#20c890"/>
<text class="lg" x="451" y="134.42">Motif 13</text>
<line x1="465.3" y1="130.72" x2="465.3" y2="135.72" stroke="#bbb" stroke-width="0.4"/>
<text class="lo" x="465.8" y="135.62" textLength="56.2" lengthAdjust="spacingAndGlyphs" fill-opacity="0.65"><tspan fill="#ff8800">Q</tspan><tspan fill="#4455ff">E</tspan><tspan fill="#2233ee">D</tspan><tspan fill="#2233ee">T</tspan><tspan fill="#11bbbb">H</tspan><tspan fill="#ee22ee">K</tspan><tspan fill="#ddcc00">Y</tspan><tspan fill="#11aa33">A</tspan><tspan fill="#ff8800">L</tspan><tspan fill="#dd2222">K</tspan><tspan fill="#11aa33">I</tspan><tspan fill="#dd2222">T</tspan><tspan fill="#ddcc00">V</tspan><tspan fill="#ddcc00">A</tspan><tspan fill="#ee22ee">L</tspan><tspan fill="#11aa33">A</tspan><tspan fill="#ddcc00">S</tspan><tspan fill="#8844ee">Q</tspan><tspan fill="#2233ee">K</tspan><tspan fill="#ddcc00">Q</tspan><tspan fill="#11aa33">I</tspan><tspan fill="#dd2222">C</tspan><tspan fill="#4455ff">M</tspan><tspan fill="#4455ff">Q</tspan><tspan fill="#11aa33">P</tspan><tspan fill="#ddcc00">A</tspan><tspan fill="#2233ee">T</tspan><tspan fill="#2233ee">H</tspan><tspan fill="#dd2222">H</tspan><tspan fill="#2233ee">H</tspan><tspan fill="#ddcc00">R</tspan></text>
<rect x="439" y="136.96" width="11" height="4.5" fill="#1060d0"/>
<text class="lg" x="451" y="140.31">Motif 15</text>
<line x1="465.3" y1="136.61" x2="465.3" y2="141.61" stroke="#bbb" stroke-width="0.4"/>
<text class="lo" x="465.8" y="141.51" textLength="49.8" lengthAdjust="spacingAndGlyphs" fill-opacity="0.65"><tspan fill="#ddcc00">K</tspan><tspan fill="#2233ee">E</tspan><tspan fill="#11bbbb">S</tspan><tspan fill="#11bbbb">G</tspan><tspan fill="#ddcc00">S</tspan><tspan fill="#ee22ee">C</tspan><tspan fill="#11bbbb">F</tspan><tspan fill="#ee22ee">C</tspan><tspan fill="#ddcc00">A</tspan><tspan fill="#11bbbb">F</tspan><tspan fill="#ee22ee">C</tspan><tspan fill="#4455ff">C</tspan><tspan fill="#ee22ee">P</tspan><tspan fill="#dd2222">M</tspan><tspan fill="#4455ff">E</tspan><tspan fill="#2233ee">G</tspan><tspan fill="#11aa33">H</tspan><tspan fill="#ee22ee">T</tspan><tspan fill="#4455ff">R</tspan><tspan fill="#11aa33">L</tspan><tspan fill="#8844ee">P</tspan><tspan fill="#11aa33">M</tspan><tspan fill="#dd2222">G</tspan><tspan fill="#2233ee">A</tspan><tspan fill="#2233ee">K</tspan><tspan fill="#2233ee">N</tspan><tspan fill="#ee22ee">E</tspan></text>
<rect x="439" y="152.4" width="11" height="4.3" fill="#3cb43c"/>
<rect x="439" y="158.3" width="11" height="4.3" fill="#ffc800"/>
<text class="lg" x="451.3" y="154.9" style="font-size:3.6px">CDS</text>
<text class="lg" x="451.3" y="161.1" style="font-size:3.6px">UTR</text>
</svg></body></html>
